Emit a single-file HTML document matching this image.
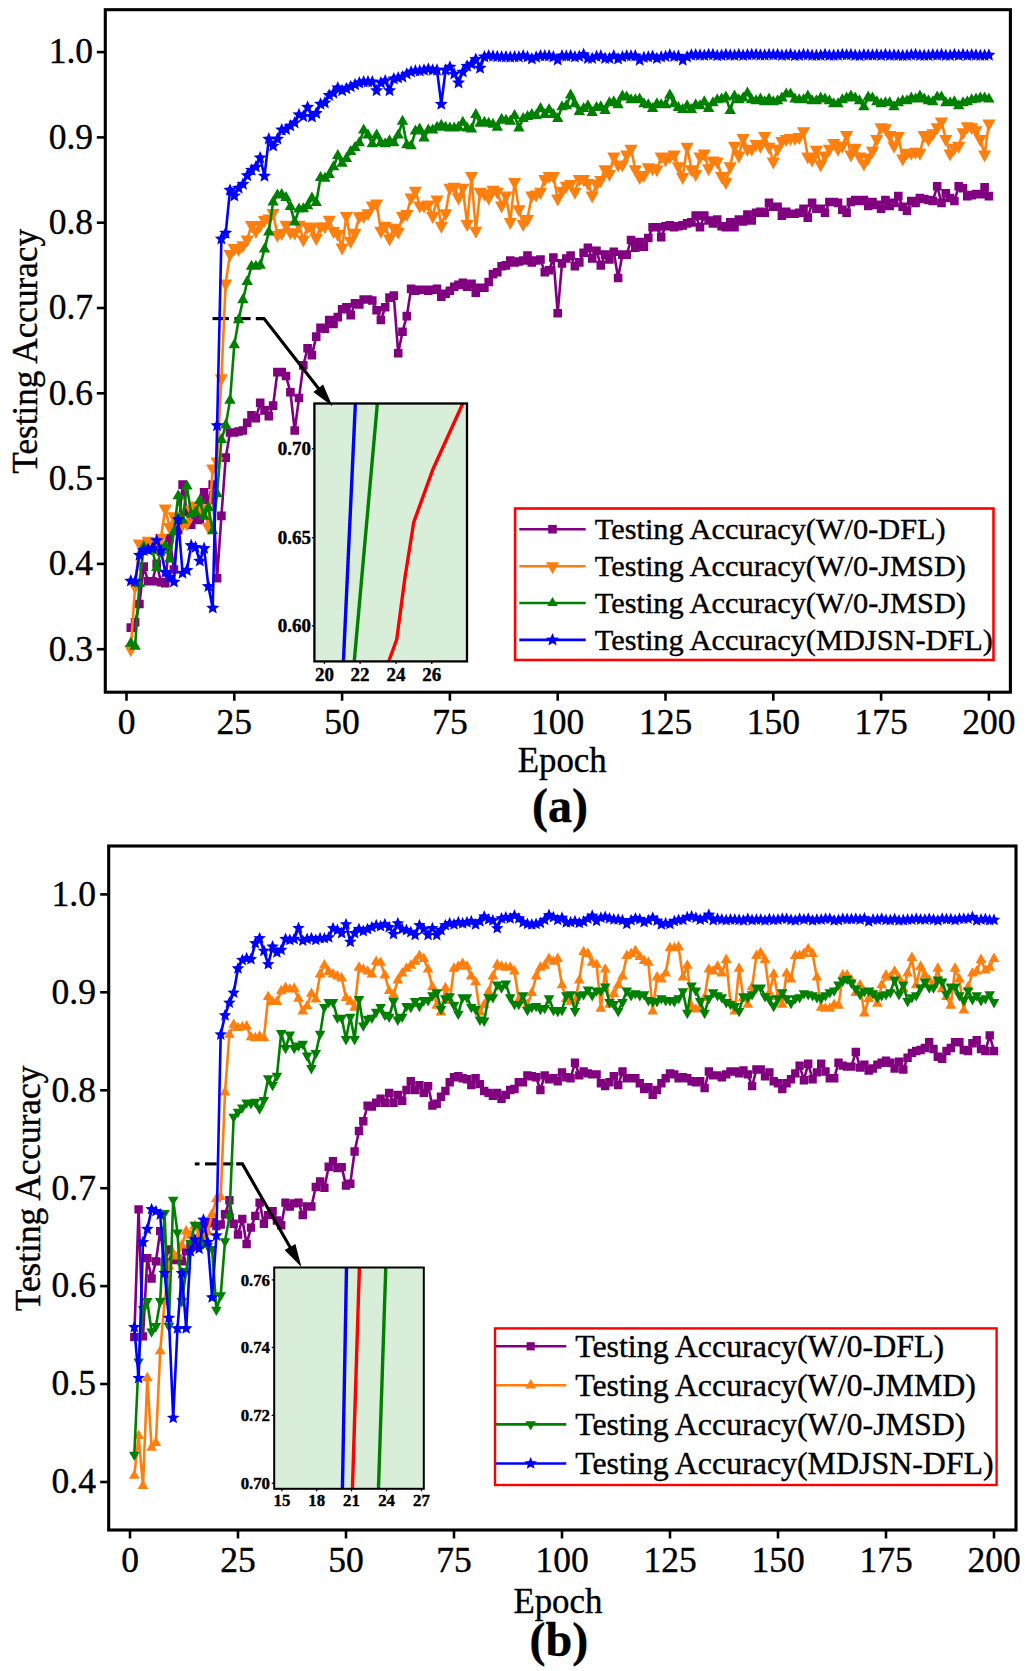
<!DOCTYPE html>
<html lang="en"><head><meta charset="utf-8"><title>Testing Accuracy vs Epoch</title>
<style>
html,body{margin:0;padding:0;background:#fff}
body{width:1025px;height:1671px;overflow:hidden}
svg{display:block}
svg text{font-family:"Liberation Serif", "Times New Roman", serif;fill:#000;stroke:#000;stroke-width:0.4px;stroke-linejoin:round}
</style></head><body>
<svg width="1025" height="1671" viewBox="0 0 1025 1671">
<rect width="1025" height="1671" fill="#fff"/>
<g id="chart-a">
<line x1="126.5" y1="692.2" x2="126.5" y2="700.7" stroke="#000" stroke-width="2.6"/>
<text x="126.5" y="733.6" font-size="35.5" text-anchor="middle" font-weight="normal">0</text>
<line x1="234.3" y1="692.2" x2="234.3" y2="700.7" stroke="#000" stroke-width="2.6"/>
<text x="234.3" y="733.6" font-size="35.5" text-anchor="middle" font-weight="normal">25</text>
<line x1="342.1" y1="692.2" x2="342.1" y2="700.7" stroke="#000" stroke-width="2.6"/>
<text x="342.1" y="733.6" font-size="35.5" text-anchor="middle" font-weight="normal">50</text>
<line x1="449.9" y1="692.2" x2="449.9" y2="700.7" stroke="#000" stroke-width="2.6"/>
<text x="449.9" y="733.6" font-size="35.5" text-anchor="middle" font-weight="normal">75</text>
<line x1="557.7" y1="692.2" x2="557.7" y2="700.7" stroke="#000" stroke-width="2.6"/>
<text x="557.7" y="733.6" font-size="35.5" text-anchor="middle" font-weight="normal">100</text>
<line x1="665.5" y1="692.2" x2="665.5" y2="700.7" stroke="#000" stroke-width="2.6"/>
<text x="665.5" y="733.6" font-size="35.5" text-anchor="middle" font-weight="normal">125</text>
<line x1="773.3" y1="692.2" x2="773.3" y2="700.7" stroke="#000" stroke-width="2.6"/>
<text x="773.3" y="733.6" font-size="35.5" text-anchor="middle" font-weight="normal">150</text>
<line x1="881.1" y1="692.2" x2="881.1" y2="700.7" stroke="#000" stroke-width="2.6"/>
<text x="881.1" y="733.6" font-size="35.5" text-anchor="middle" font-weight="normal">175</text>
<line x1="988.9" y1="692.2" x2="988.9" y2="700.7" stroke="#000" stroke-width="2.6"/>
<text x="988.9" y="733.6" font-size="35.5" text-anchor="middle" font-weight="normal">200</text>
<line x1="96.8" y1="649.2" x2="105.3" y2="649.2" stroke="#000" stroke-width="2.6"/>
<text x="93" y="660.5" font-size="35.5" text-anchor="end" font-weight="normal">0.3</text>
<line x1="96.8" y1="563.9" x2="105.3" y2="563.9" stroke="#000" stroke-width="2.6"/>
<text x="93" y="575.2" font-size="35.5" text-anchor="end" font-weight="normal">0.4</text>
<line x1="96.8" y1="478.6" x2="105.3" y2="478.6" stroke="#000" stroke-width="2.6"/>
<text x="93" y="489.9" font-size="35.5" text-anchor="end" font-weight="normal">0.5</text>
<line x1="96.8" y1="393.3" x2="105.3" y2="393.3" stroke="#000" stroke-width="2.6"/>
<text x="93" y="404.6" font-size="35.5" text-anchor="end" font-weight="normal">0.6</text>
<line x1="96.8" y1="308" x2="105.3" y2="308" stroke="#000" stroke-width="2.6"/>
<text x="93" y="319.3" font-size="35.5" text-anchor="end" font-weight="normal">0.7</text>
<line x1="96.8" y1="222.7" x2="105.3" y2="222.7" stroke="#000" stroke-width="2.6"/>
<text x="93" y="234" font-size="35.5" text-anchor="end" font-weight="normal">0.8</text>
<line x1="96.8" y1="137.4" x2="105.3" y2="137.4" stroke="#000" stroke-width="2.6"/>
<text x="93" y="148.7" font-size="35.5" text-anchor="end" font-weight="normal">0.9</text>
<line x1="96.8" y1="52.1" x2="105.3" y2="52.1" stroke="#000" stroke-width="2.6"/>
<text x="93" y="63.4" font-size="35.5" text-anchor="end" font-weight="normal">1.0</text>
<text x="562.2" y="771.8" font-size="34.8" text-anchor="middle" font-weight="normal">Epoch</text>
<text transform="translate(37.3 351.3) rotate(-90)" font-size="35.2" text-anchor="middle">Testing Accuracy</text>
<text x="560" y="821.5" font-size="48" text-anchor="middle" font-weight="bold">(a)</text>
<line x1="212.5" y1="318.6" x2="228.9" y2="318.6" stroke="#000" stroke-width="3.1"/>
<line x1="234.4" y1="318.6" x2="250.6" y2="318.6" stroke="#000" stroke-width="3.1"/>
<polyline fill="none" stroke="#800080" stroke-width="2.6" stroke-linejoin="round" points="130.8,627.6 135.1,622.2 139.4,604 143.7,566.6 148.1,581.2 152.4,581.2 156.7,563.7 161,582.2 165.3,583.2 169.6,538.3 173.9,569.5 178.2,530 182.6,484.6 186.9,512 191.2,524.6 195.5,518.8 199.8,520 204.1,492.4 208.4,500 212.7,484.6 217.1,578.3 221.4,515.9 225.7,457.6 230,432.5 234.3,432.5 238.6,431.5 242.9,430.5 247.2,422.9 251.5,415.2 255.9,418.1 260.2,402.8 264.5,410.4 268.8,416.2 273.1,405.6 277.4,372.1 281.7,372.1 286,376 290.4,392.2 294.7,430.5 299,398 303.3,365.4 307.6,348.3 311.9,355.1 316.2,336.6 320.5,327.8 324.9,328.8 329.2,320 333.5,323.9 337.8,317.1 342.1,309.3 346.4,307.3 350.7,315.1 355,303.4 359.3,304.4 363.7,299.5 368,299.5 372.3,300.5 376.6,310.2 380.9,320 385.2,307.3 389.5,297.6 393.8,295.6 398.2,353.2 402.5,331.7 406.8,316.1 411.1,288.8 415.4,290.7 419.7,289.8 424,289.8 428.3,290.7 432.7,289.8 437,288.8 441.3,296.6 445.6,293.7 449.9,290.7 454.2,286.8 458.5,284.9 462.8,282.9 467.1,286.8 471.5,283.9 475.8,292.7 480.1,287.8 484.4,287.8 488.7,282 493,274.1 497.3,272.2 501.6,266.3 506,265.4 510.3,260.5 514.6,262.4 518.9,261.5 523.2,260.5 527.5,255.6 531.8,262.4 536.1,260.5 540.5,259.5 544.8,272.2 549.1,270.2 553.4,257.6 557.7,313.2 562,263.4 566.3,258.5 570.6,255.6 574.9,266.3 579.3,262.4 583.6,252.7 587.9,247.8 592.2,258.5 596.5,250.7 600.8,265.4 605.1,254.6 609.4,259.5 613.8,251.7 618.1,278 622.4,254.6 626.7,254.6 631,240 635.3,247.8 639.6,242 643.9,246.8 648.3,238 652.6,227.3 656.9,227.3 661.2,237.1 665.5,226.3 669.8,225.4 674.1,227.3 678.4,226.3 682.7,225.4 687.1,223.4 691.4,222.4 695.7,215.6 700,227.3 704.3,215.6 708.6,220.5 712.9,223.4 717.2,219.5 721.6,226.3 725.9,227.3 730.2,222.4 734.5,227.3 738.8,219.5 743.1,221.5 747.4,214.6 751.7,220.5 756.1,212.7 760.4,211.7 764.7,212.7 769,202.9 773.3,206.8 777.6,206.8 781.9,215.6 786.2,211.7 790.5,213.7 794.9,213.7 799.2,212.7 803.5,208.8 807.8,217.6 812.1,202.9 816.4,208.8 820.7,208.8 825,212.7 829.4,202 833.7,202 838,202.9 842.3,209.8 846.6,212.7 850.9,202 855.2,200 859.5,201 863.9,200 868.2,205.9 872.5,202 876.8,204.9 881.1,208.8 885.4,200 889.7,205.9 894,202.9 898.3,196.1 902.7,206.8 907,210.7 911.3,201 915.6,202.9 919.9,198 924.2,199 928.5,200 932.8,201 937.2,186.3 941.5,202.9 945.8,193.2 950.1,198 954.4,201 958.7,186.3 963,188.3 967.3,196.1 971.7,195.1 976,194.1 980.3,194.1 984.6,187.3 988.9,196.1"/>
<path fill="#800080" d="M126.5 623.3h8.6v8.6h-8.6ZM130.8 617.9h8.6v8.6h-8.6ZM135.1 599.7h8.6v8.6h-8.6ZM139.4 562.3h8.6v8.6h-8.6ZM143.8 576.9h8.6v8.6h-8.6ZM148.1 576.9h8.6v8.6h-8.6ZM152.4 559.4h8.6v8.6h-8.6ZM156.7 577.9h8.6v8.6h-8.6ZM161 578.9h8.6v8.6h-8.6ZM165.3 534h8.6v8.6h-8.6ZM169.6 565.2h8.6v8.6h-8.6ZM173.9 525.7h8.6v8.6h-8.6ZM178.3 480.3h8.6v8.6h-8.6ZM182.6 507.7h8.6v8.6h-8.6ZM186.9 520.3h8.6v8.6h-8.6ZM191.2 514.5h8.6v8.6h-8.6ZM195.5 515.7h8.6v8.6h-8.6ZM199.8 488.1h8.6v8.6h-8.6ZM204.1 495.7h8.6v8.6h-8.6ZM208.4 480.3h8.6v8.6h-8.6ZM212.8 574h8.6v8.6h-8.6ZM217.1 511.6h8.6v8.6h-8.6ZM221.4 453.3h8.6v8.6h-8.6ZM225.7 428.2h8.6v8.6h-8.6ZM230 428.2h8.6v8.6h-8.6ZM234.3 427.2h8.6v8.6h-8.6ZM238.6 426.2h8.6v8.6h-8.6ZM242.9 418.6h8.6v8.6h-8.6ZM247.2 410.9h8.6v8.6h-8.6ZM251.6 413.8h8.6v8.6h-8.6ZM255.9 398.5h8.6v8.6h-8.6ZM260.2 406.1h8.6v8.6h-8.6ZM264.5 411.9h8.6v8.6h-8.6ZM268.8 401.3h8.6v8.6h-8.6ZM273.1 367.8h8.6v8.6h-8.6ZM277.4 367.8h8.6v8.6h-8.6ZM281.7 371.7h8.6v8.6h-8.6ZM286.1 387.9h8.6v8.6h-8.6ZM290.4 426.2h8.6v8.6h-8.6ZM294.7 393.7h8.6v8.6h-8.6ZM299 361.1h8.6v8.6h-8.6ZM303.3 344h8.6v8.6h-8.6ZM307.6 350.8h8.6v8.6h-8.6ZM311.9 332.3h8.6v8.6h-8.6ZM316.2 323.5h8.6v8.6h-8.6ZM320.6 324.5h8.6v8.6h-8.6ZM324.9 315.7h8.6v8.6h-8.6ZM329.2 319.6h8.6v8.6h-8.6ZM333.5 312.8h8.6v8.6h-8.6ZM337.8 305h8.6v8.6h-8.6ZM342.1 303h8.6v8.6h-8.6ZM346.4 310.8h8.6v8.6h-8.6ZM350.7 299.1h8.6v8.6h-8.6ZM355 300.1h8.6v8.6h-8.6ZM359.4 295.2h8.6v8.6h-8.6ZM363.7 295.2h8.6v8.6h-8.6ZM368 296.2h8.6v8.6h-8.6ZM372.3 305.9h8.6v8.6h-8.6ZM376.6 315.7h8.6v8.6h-8.6ZM380.9 303h8.6v8.6h-8.6ZM385.2 293.3h8.6v8.6h-8.6ZM389.5 291.3h8.6v8.6h-8.6ZM393.9 348.9h8.6v8.6h-8.6ZM398.2 327.4h8.6v8.6h-8.6ZM402.5 311.8h8.6v8.6h-8.6ZM406.8 284.5h8.6v8.6h-8.6ZM411.1 286.4h8.6v8.6h-8.6ZM415.4 285.5h8.6v8.6h-8.6ZM419.7 285.5h8.6v8.6h-8.6ZM424 286.4h8.6v8.6h-8.6ZM428.4 285.5h8.6v8.6h-8.6ZM432.7 284.5h8.6v8.6h-8.6ZM437 292.3h8.6v8.6h-8.6ZM441.3 289.4h8.6v8.6h-8.6ZM445.6 286.4h8.6v8.6h-8.6ZM449.9 282.5h8.6v8.6h-8.6ZM454.2 280.6h8.6v8.6h-8.6ZM458.5 278.6h8.6v8.6h-8.6ZM462.8 282.5h8.6v8.6h-8.6ZM467.2 279.6h8.6v8.6h-8.6ZM471.5 288.4h8.6v8.6h-8.6ZM475.8 283.5h8.6v8.6h-8.6ZM480.1 283.5h8.6v8.6h-8.6ZM484.4 277.7h8.6v8.6h-8.6ZM488.7 269.8h8.6v8.6h-8.6ZM493 267.9h8.6v8.6h-8.6ZM497.3 262h8.6v8.6h-8.6ZM501.7 261.1h8.6v8.6h-8.6ZM506 256.2h8.6v8.6h-8.6ZM510.3 258.1h8.6v8.6h-8.6ZM514.6 257.2h8.6v8.6h-8.6ZM518.9 256.2h8.6v8.6h-8.6ZM523.2 251.3h8.6v8.6h-8.6ZM527.5 258.1h8.6v8.6h-8.6ZM531.8 256.2h8.6v8.6h-8.6ZM536.2 255.2h8.6v8.6h-8.6ZM540.5 267.9h8.6v8.6h-8.6ZM544.8 265.9h8.6v8.6h-8.6ZM549.1 253.3h8.6v8.6h-8.6ZM553.4 308.9h8.6v8.6h-8.6ZM557.7 259.1h8.6v8.6h-8.6ZM562 254.2h8.6v8.6h-8.6ZM566.3 251.3h8.6v8.6h-8.6ZM570.6 262h8.6v8.6h-8.6ZM575 258.1h8.6v8.6h-8.6ZM579.3 248.4h8.6v8.6h-8.6ZM583.6 243.5h8.6v8.6h-8.6ZM587.9 254.2h8.6v8.6h-8.6ZM592.2 246.4h8.6v8.6h-8.6ZM596.5 261.1h8.6v8.6h-8.6ZM600.8 250.3h8.6v8.6h-8.6ZM605.1 255.2h8.6v8.6h-8.6ZM609.5 247.4h8.6v8.6h-8.6ZM613.8 273.7h8.6v8.6h-8.6ZM618.1 250.3h8.6v8.6h-8.6ZM622.4 250.3h8.6v8.6h-8.6ZM626.7 235.7h8.6v8.6h-8.6ZM631 243.5h8.6v8.6h-8.6ZM635.3 237.7h8.6v8.6h-8.6ZM639.6 242.5h8.6v8.6h-8.6ZM644 233.7h8.6v8.6h-8.6ZM648.3 223h8.6v8.6h-8.6ZM652.6 223h8.6v8.6h-8.6ZM656.9 232.8h8.6v8.6h-8.6ZM661.2 222h8.6v8.6h-8.6ZM665.5 221.1h8.6v8.6h-8.6ZM669.8 223h8.6v8.6h-8.6ZM674.1 222h8.6v8.6h-8.6ZM678.4 221.1h8.6v8.6h-8.6ZM682.8 219.1h8.6v8.6h-8.6ZM687.1 218.1h8.6v8.6h-8.6ZM691.4 211.3h8.6v8.6h-8.6ZM695.7 223h8.6v8.6h-8.6ZM700 211.3h8.6v8.6h-8.6ZM704.3 216.2h8.6v8.6h-8.6ZM708.6 219.1h8.6v8.6h-8.6ZM712.9 215.2h8.6v8.6h-8.6ZM717.3 222h8.6v8.6h-8.6ZM721.6 223h8.6v8.6h-8.6ZM725.9 218.1h8.6v8.6h-8.6ZM730.2 223h8.6v8.6h-8.6ZM734.5 215.2h8.6v8.6h-8.6ZM738.8 217.2h8.6v8.6h-8.6ZM743.1 210.3h8.6v8.6h-8.6ZM747.4 216.2h8.6v8.6h-8.6ZM751.8 208.4h8.6v8.6h-8.6ZM756.1 207.4h8.6v8.6h-8.6ZM760.4 208.4h8.6v8.6h-8.6ZM764.7 198.6h8.6v8.6h-8.6ZM769 202.5h8.6v8.6h-8.6ZM773.3 202.5h8.6v8.6h-8.6ZM777.6 211.3h8.6v8.6h-8.6ZM781.9 207.4h8.6v8.6h-8.6ZM786.2 209.4h8.6v8.6h-8.6ZM790.6 209.4h8.6v8.6h-8.6ZM794.9 208.4h8.6v8.6h-8.6ZM799.2 204.5h8.6v8.6h-8.6ZM803.5 213.3h8.6v8.6h-8.6ZM807.8 198.6h8.6v8.6h-8.6ZM812.1 204.5h8.6v8.6h-8.6ZM816.4 204.5h8.6v8.6h-8.6ZM820.7 208.4h8.6v8.6h-8.6ZM825.1 197.7h8.6v8.6h-8.6ZM829.4 197.7h8.6v8.6h-8.6ZM833.7 198.6h8.6v8.6h-8.6ZM838 205.5h8.6v8.6h-8.6ZM842.3 208.4h8.6v8.6h-8.6ZM846.6 197.7h8.6v8.6h-8.6ZM850.9 195.7h8.6v8.6h-8.6ZM855.2 196.7h8.6v8.6h-8.6ZM859.6 195.7h8.6v8.6h-8.6ZM863.9 201.6h8.6v8.6h-8.6ZM868.2 197.7h8.6v8.6h-8.6ZM872.5 200.6h8.6v8.6h-8.6ZM876.8 204.5h8.6v8.6h-8.6ZM881.1 195.7h8.6v8.6h-8.6ZM885.4 201.6h8.6v8.6h-8.6ZM889.7 198.6h8.6v8.6h-8.6ZM894 191.8h8.6v8.6h-8.6ZM898.4 202.5h8.6v8.6h-8.6ZM902.7 206.4h8.6v8.6h-8.6ZM907 196.7h8.6v8.6h-8.6ZM911.3 198.6h8.6v8.6h-8.6ZM915.6 193.7h8.6v8.6h-8.6ZM919.9 194.7h8.6v8.6h-8.6ZM924.2 195.7h8.6v8.6h-8.6ZM928.5 196.7h8.6v8.6h-8.6ZM932.9 182h8.6v8.6h-8.6ZM937.2 198.6h8.6v8.6h-8.6ZM941.5 188.9h8.6v8.6h-8.6ZM945.8 193.7h8.6v8.6h-8.6ZM950.1 196.7h8.6v8.6h-8.6ZM954.4 182h8.6v8.6h-8.6ZM958.7 184h8.6v8.6h-8.6ZM963 191.8h8.6v8.6h-8.6ZM967.4 190.8h8.6v8.6h-8.6ZM971.7 189.8h8.6v8.6h-8.6ZM976 189.8h8.6v8.6h-8.6ZM980.3 183h8.6v8.6h-8.6ZM984.6 191.8h8.6v8.6h-8.6Z"/>
<polyline fill="none" stroke="#ff7f0e" stroke-width="2.6" stroke-linejoin="round" points="130.8,649.2 135.1,586.5 139.4,543.6 143.7,544.5 148.1,540.7 152.4,542.5 156.7,547.5 161,537.8 165.3,508.5 169.6,527.1 173.9,516.3 178.2,519.5 182.6,524.1 186.9,523.2 191.2,509.5 195.5,505.6 199.8,508.5 204.1,508.5 208.4,527.1 212.7,468.5 217.1,461.5 221.4,378.3 225.7,283.5 230,253.9 234.3,248.1 238.6,249.1 242.9,245.3 247.2,239.5 251.5,225.1 255.9,230.9 260.2,225.1 264.5,220 268.8,218.5 273.1,213.1 277.4,234.8 281.7,233 286,224.7 290.4,232.2 294.7,232.7 299,224.7 303.3,239.5 307.6,226.5 311.9,227.5 316.2,238 320.5,226.5 324.9,226.3 329.2,219.7 333.5,231 337.8,234 342.1,247.5 346.4,216 350.7,241 355,232.7 359.3,216.3 363.7,216.1 368,213.2 372.3,205.4 376.6,203.4 380.9,230.7 385.2,225.8 389.5,238.5 393.8,227.8 398.2,231.7 402.5,216.1 406.8,214.1 411.1,197.5 415.4,190.7 419.7,205.4 424,205.4 428.3,204.4 432.7,216.1 437,199.5 441.3,225.8 445.6,213.2 449.9,187.8 454.2,186.8 458.5,197.5 462.8,187.8 467.1,223.9 471.5,176.1 475.8,230.7 480.1,191.7 484.4,193.6 488.7,197.5 493,189.7 497.3,191.7 501.6,205.4 506,195.6 510.3,221.9 514.6,181.9 518.9,209.3 523.2,223.9 527.5,219 531.8,195.6 536.1,194.6 540.5,191.7 544.8,179 549.1,176.1 553.4,176.1 557.7,198.5 562,190.7 566.3,185.8 570.6,183.9 574.9,191.7 579.3,179 583.6,179 587.9,182.9 592.2,195.6 596.5,183.9 600.8,180 605.1,169.3 609.4,174.1 613.8,156.6 618.1,164.4 622.4,164.4 626.7,154.6 631,148.8 635.3,169.3 639.6,177.1 643.9,175.1 648.3,167.3 652.6,168.3 656.9,169.3 661.2,156.6 665.5,159.5 669.8,156.6 674.1,154.6 678.4,166.3 682.7,177.1 687.1,146.8 691.4,169.3 695.7,174.1 700,156.6 704.3,153.6 708.6,168.3 712.9,160.5 717.2,161.5 721.6,176.1 725.9,181.9 730.2,166.3 734.5,145.8 738.8,155.6 743.1,138 747.4,148.8 751.7,148.8 756.1,143.9 760.4,145.8 764.7,136.1 769,146.8 773.3,161.5 777.6,148.8 781.9,141 786.2,139 790.5,138 794.9,138 799.2,137.1 803.5,131.2 807.8,156.6 812.1,159.5 816.4,149.7 820.7,164.4 825,155.6 829.4,148.8 833.7,142.9 838,148.8 842.3,145.8 846.6,135.1 850.9,154.6 855.2,147.8 859.5,156.6 863.9,163.4 868.2,157.5 872.5,150.7 876.8,139 881.1,127.3 885.4,128.3 889.7,135.1 894,145.8 898.3,136.1 902.7,158.5 907,152.7 911.3,152.7 915.6,151.7 919.9,152.7 924.2,135.1 928.5,139 932.8,133.2 937.2,127.3 941.5,121.5 945.8,139 950.1,153.6 954.4,147.8 958.7,145.8 963,132.2 967.3,126.3 971.7,127.3 976,130.2 980.3,139 984.6,154.6 988.9,123.4"/>
<path fill="#ff7f0e" d="M130.8 657.2L124.2 645.2L137.4 645.2ZM135.1 594.5L128.5 582.5L141.7 582.5ZM139.4 551.6L132.8 539.6L146 539.6ZM143.7 552.5L137.1 540.5L150.3 540.5ZM148.1 548.7L141.5 536.7L154.7 536.7ZM152.4 550.5L145.8 538.5L159 538.5ZM156.7 555.5L150.1 543.5L163.3 543.5ZM161 545.8L154.4 533.8L167.6 533.8ZM165.3 516.5L158.7 504.5L171.9 504.5ZM169.6 535.1L163 523.1L176.2 523.1ZM173.9 524.3L167.3 512.3L180.5 512.3ZM178.2 527.5L171.6 515.5L184.8 515.5ZM182.6 532.1L176 520.1L189.2 520.1ZM186.9 531.2L180.3 519.2L193.5 519.2ZM191.2 517.5L184.6 505.5L197.8 505.5ZM195.5 513.6L188.9 501.6L202.1 501.6ZM199.8 516.5L193.2 504.5L206.4 504.5ZM204.1 516.5L197.5 504.5L210.7 504.5ZM208.4 535.1L201.8 523.1L215 523.1ZM212.7 476.5L206.1 464.5L219.3 464.5ZM217.1 469.5L210.5 457.5L223.7 457.5ZM221.4 386.3L214.8 374.3L228 374.3ZM225.7 291.5L219.1 279.5L232.3 279.5ZM230 261.9L223.4 249.9L236.6 249.9ZM234.3 256.1L227.7 244.1L240.9 244.1ZM238.6 257.1L232 245.1L245.2 245.1ZM242.9 253.3L236.3 241.3L249.5 241.3ZM247.2 247.5L240.6 235.5L253.8 235.5ZM251.5 233.1L244.9 221.1L258.1 221.1ZM255.9 238.9L249.3 226.9L262.5 226.9ZM260.2 233.1L253.6 221.1L266.8 221.1ZM264.5 228L257.9 216L271.1 216ZM268.8 226.5L262.2 214.5L275.4 214.5ZM273.1 221.1L266.5 209.1L279.7 209.1ZM277.4 242.8L270.8 230.8L284 230.8ZM281.7 241L275.1 229L288.3 229ZM286 232.7L279.4 220.7L292.6 220.7ZM290.4 240.2L283.8 228.2L297 228.2ZM294.7 240.7L288.1 228.7L301.3 228.7ZM299 232.7L292.4 220.7L305.6 220.7ZM303.3 247.5L296.7 235.5L309.9 235.5ZM307.6 234.5L301 222.5L314.2 222.5ZM311.9 235.5L305.3 223.5L318.5 223.5ZM316.2 246L309.6 234L322.8 234ZM320.5 234.5L313.9 222.5L327.1 222.5ZM324.9 234.3L318.3 222.3L331.5 222.3ZM329.2 227.7L322.6 215.7L335.8 215.7ZM333.5 239L326.9 227L340.1 227ZM337.8 242L331.2 230L344.4 230ZM342.1 255.5L335.5 243.5L348.7 243.5ZM346.4 224L339.8 212L353 212ZM350.7 249L344.1 237L357.3 237ZM355 240.7L348.4 228.7L361.6 228.7ZM359.3 224.3L352.7 212.3L365.9 212.3ZM363.7 224.1L357.1 212.1L370.3 212.1ZM368 221.2L361.4 209.2L374.6 209.2ZM372.3 213.4L365.7 201.4L378.9 201.4ZM376.6 211.4L370 199.4L383.2 199.4ZM380.9 238.7L374.3 226.7L387.5 226.7ZM385.2 233.8L378.6 221.8L391.8 221.8ZM389.5 246.5L382.9 234.5L396.1 234.5ZM393.8 235.8L387.2 223.8L400.4 223.8ZM398.2 239.7L391.6 227.7L404.8 227.7ZM402.5 224.1L395.9 212.1L409.1 212.1ZM406.8 222.1L400.2 210.1L413.4 210.1ZM411.1 205.5L404.5 193.5L417.7 193.5ZM415.4 198.7L408.8 186.7L422 186.7ZM419.7 213.4L413.1 201.4L426.3 201.4ZM424 213.4L417.4 201.4L430.6 201.4ZM428.3 212.4L421.7 200.4L434.9 200.4ZM432.7 224.1L426.1 212.1L439.3 212.1ZM437 207.5L430.4 195.5L443.6 195.5ZM441.3 233.8L434.7 221.8L447.9 221.8ZM445.6 221.2L439 209.2L452.2 209.2ZM449.9 195.8L443.3 183.8L456.5 183.8ZM454.2 194.8L447.6 182.8L460.8 182.8ZM458.5 205.5L451.9 193.5L465.1 193.5ZM462.8 195.8L456.2 183.8L469.4 183.8ZM467.1 231.9L460.5 219.9L473.7 219.9ZM471.5 184.1L464.9 172.1L478.1 172.1ZM475.8 238.7L469.2 226.7L482.4 226.7ZM480.1 199.7L473.5 187.7L486.7 187.7ZM484.4 201.6L477.8 189.6L491 189.6ZM488.7 205.5L482.1 193.5L495.3 193.5ZM493 197.7L486.4 185.7L499.6 185.7ZM497.3 199.7L490.7 187.7L503.9 187.7ZM501.6 213.4L495 201.4L508.2 201.4ZM506 203.6L499.4 191.6L512.6 191.6ZM510.3 229.9L503.7 217.9L516.9 217.9ZM514.6 189.9L508 177.9L521.2 177.9ZM518.9 217.3L512.3 205.3L525.5 205.3ZM523.2 231.9L516.6 219.9L529.8 219.9ZM527.5 227L520.9 215L534.1 215ZM531.8 203.6L525.2 191.6L538.4 191.6ZM536.1 202.6L529.5 190.6L542.7 190.6ZM540.5 199.7L533.9 187.7L547.1 187.7ZM544.8 187L538.2 175L551.4 175ZM549.1 184.1L542.5 172.1L555.7 172.1ZM553.4 184.1L546.8 172.1L560 172.1ZM557.7 206.5L551.1 194.5L564.3 194.5ZM562 198.7L555.4 186.7L568.6 186.7ZM566.3 193.8L559.7 181.8L572.9 181.8ZM570.6 191.9L564 179.9L577.2 179.9ZM574.9 199.7L568.3 187.7L581.5 187.7ZM579.3 187L572.7 175L585.9 175ZM583.6 187L577 175L590.2 175ZM587.9 190.9L581.3 178.9L594.5 178.9ZM592.2 203.6L585.6 191.6L598.8 191.6ZM596.5 191.9L589.9 179.9L603.1 179.9ZM600.8 188L594.2 176L607.4 176ZM605.1 177.3L598.5 165.3L611.7 165.3ZM609.4 182.1L602.8 170.1L616 170.1ZM613.8 164.6L607.2 152.6L620.4 152.6ZM618.1 172.4L611.5 160.4L624.7 160.4ZM622.4 172.4L615.8 160.4L629 160.4ZM626.7 162.6L620.1 150.6L633.3 150.6ZM631 156.8L624.4 144.8L637.6 144.8ZM635.3 177.3L628.7 165.3L641.9 165.3ZM639.6 185.1L633 173.1L646.2 173.1ZM643.9 183.1L637.3 171.1L650.5 171.1ZM648.3 175.3L641.7 163.3L654.9 163.3ZM652.6 176.3L646 164.3L659.2 164.3ZM656.9 177.3L650.3 165.3L663.5 165.3ZM661.2 164.6L654.6 152.6L667.8 152.6ZM665.5 167.5L658.9 155.5L672.1 155.5ZM669.8 164.6L663.2 152.6L676.4 152.6ZM674.1 162.6L667.5 150.6L680.7 150.6ZM678.4 174.3L671.8 162.3L685 162.3ZM682.7 185.1L676.1 173.1L689.3 173.1ZM687.1 154.8L680.5 142.8L693.7 142.8ZM691.4 177.3L684.8 165.3L698 165.3ZM695.7 182.1L689.1 170.1L702.3 170.1ZM700 164.6L693.4 152.6L706.6 152.6ZM704.3 161.6L697.7 149.6L710.9 149.6ZM708.6 176.3L702 164.3L715.2 164.3ZM712.9 168.5L706.3 156.5L719.5 156.5ZM717.2 169.5L710.6 157.5L723.8 157.5ZM721.6 184.1L715 172.1L728.2 172.1ZM725.9 189.9L719.3 177.9L732.5 177.9ZM730.2 174.3L723.6 162.3L736.8 162.3ZM734.5 153.8L727.9 141.8L741.1 141.8ZM738.8 163.6L732.2 151.6L745.4 151.6ZM743.1 146L736.5 134L749.7 134ZM747.4 156.8L740.8 144.8L754 144.8ZM751.7 156.8L745.1 144.8L758.3 144.8ZM756.1 151.9L749.5 139.9L762.7 139.9ZM760.4 153.8L753.8 141.8L767 141.8ZM764.7 144.1L758.1 132.1L771.3 132.1ZM769 154.8L762.4 142.8L775.6 142.8ZM773.3 169.5L766.7 157.5L779.9 157.5ZM777.6 156.8L771 144.8L784.2 144.8ZM781.9 149L775.3 137L788.5 137ZM786.2 147L779.6 135L792.8 135ZM790.5 146L783.9 134L797.1 134ZM794.9 146L788.3 134L801.5 134ZM799.2 145.1L792.6 133.1L805.8 133.1ZM803.5 139.2L796.9 127.2L810.1 127.2ZM807.8 164.6L801.2 152.6L814.4 152.6ZM812.1 167.5L805.5 155.5L818.7 155.5ZM816.4 157.7L809.8 145.7L823 145.7ZM820.7 172.4L814.1 160.4L827.3 160.4ZM825 163.6L818.4 151.6L831.6 151.6ZM829.4 156.8L822.8 144.8L836 144.8ZM833.7 150.9L827.1 138.9L840.3 138.9ZM838 156.8L831.4 144.8L844.6 144.8ZM842.3 153.8L835.7 141.8L848.9 141.8ZM846.6 143.1L840 131.1L853.2 131.1ZM850.9 162.6L844.3 150.6L857.5 150.6ZM855.2 155.8L848.6 143.8L861.8 143.8ZM859.5 164.6L852.9 152.6L866.1 152.6ZM863.9 171.4L857.3 159.4L870.5 159.4ZM868.2 165.5L861.6 153.5L874.8 153.5ZM872.5 158.7L865.9 146.7L879.1 146.7ZM876.8 147L870.2 135L883.4 135ZM881.1 135.3L874.5 123.3L887.7 123.3ZM885.4 136.3L878.8 124.3L892 124.3ZM889.7 143.1L883.1 131.1L896.3 131.1ZM894 153.8L887.4 141.8L900.6 141.8ZM898.3 144.1L891.7 132.1L904.9 132.1ZM902.7 166.5L896.1 154.5L909.3 154.5ZM907 160.7L900.4 148.7L913.6 148.7ZM911.3 160.7L904.7 148.7L917.9 148.7ZM915.6 159.7L909 147.7L922.2 147.7ZM919.9 160.7L913.3 148.7L926.5 148.7ZM924.2 143.1L917.6 131.1L930.8 131.1ZM928.5 147L921.9 135L935.1 135ZM932.8 141.2L926.2 129.2L939.4 129.2ZM937.2 135.3L930.6 123.3L943.8 123.3ZM941.5 129.5L934.9 117.5L948.1 117.5ZM945.8 147L939.2 135L952.4 135ZM950.1 161.6L943.5 149.6L956.7 149.6ZM954.4 155.8L947.8 143.8L961 143.8ZM958.7 153.8L952.1 141.8L965.3 141.8ZM963 140.2L956.4 128.2L969.6 128.2ZM967.3 134.3L960.7 122.3L973.9 122.3ZM971.7 135.3L965.1 123.3L978.3 123.3ZM976 138.2L969.4 126.2L982.6 126.2ZM980.3 147L973.7 135L986.9 135ZM984.6 162.6L978 150.6L991.2 150.6ZM988.9 131.4L982.3 119.4L995.5 119.4Z"/>
<polyline fill="none" stroke="#008000" stroke-width="2.6" stroke-linejoin="round" points="130.8,643.4 135.1,646.4 139.4,583.7 143.7,546.6 148.1,549.5 152.4,550.5 156.7,567.6 161,550.5 165.3,545.6 169.6,559.3 173.9,532 178.2,495.9 182.6,520.3 186.9,486.1 191.2,514.5 195.5,512.5 199.8,500.8 204.1,516.4 208.4,507.6 212.7,531 217.1,493.9 221.4,439.7 225.7,425.3 230,400.4 234.3,344.9 238.6,320 242.9,299.9 247.2,281.7 251.5,266.4 255.9,266.4 260.2,265.4 264.5,249.2 268.8,232.1 273.1,202.1 277.4,195.1 281.7,194.7 286,197.7 290.4,206.7 294.7,222.3 299,209.3 303.3,209 307.6,205.9 311.9,198.2 316.2,202.8 320.5,177.8 324.9,178.5 329.2,174.7 333.5,167 337.8,155.7 342.1,163.5 346.4,158.6 350.7,151.7 355,147.8 359.3,143 363.7,130.3 368,135.2 372.3,143.9 376.6,135.2 380.9,143 385.2,143.9 389.5,141 393.8,143 398.2,135.2 402.5,121.5 406.8,144.9 411.1,145.9 415.4,131.3 419.7,129.3 424,138.1 428.3,130.3 432.7,130.3 437,127.4 441.3,125.4 445.6,127.4 449.9,128.3 454.2,128.3 458.5,127.4 462.8,122.5 467.1,128.3 471.5,129.3 475.8,114.7 480.1,123.5 484.4,122.5 488.7,123.5 493,124.4 497.3,127.4 501.6,119.5 506,120.5 510.3,121.5 514.6,115.6 518.9,128.3 523.2,118.6 527.5,116.6 531.8,114.7 536.1,115.6 540.5,108.8 544.8,114.7 549.1,109.8 553.4,114.7 557.7,118.6 562,106.9 566.3,105.9 570.6,95.2 574.9,103.9 579.3,111.7 583.6,108.8 587.9,105.9 592.2,112.7 596.5,107.8 600.8,106.9 605.1,110.8 609.4,103 613.8,102 618.1,104.9 622.4,96.1 626.7,97.1 631,100 635.3,100 639.6,99.1 643.9,103.9 648.3,104.9 652.6,108.8 656.9,103.9 661.2,104.9 665.5,104.9 669.8,95.2 674.1,103.9 678.4,107.8 682.7,109.8 687.1,105.9 691.4,109.8 695.7,104.9 700,105.9 704.3,102 708.6,108.8 712.9,103 717.2,100 721.6,99.1 725.9,97.1 730.2,110.8 734.5,96.1 738.8,100 743.1,98.1 747.4,93.2 751.7,100 756.1,101 760.4,99.1 764.7,102 769,99.1 773.3,102 777.6,101 781.9,98.1 786.2,94.2 790.5,94.2 794.9,99.1 799.2,100 803.5,100 807.8,96.1 812.1,101 816.4,101 820.7,98.1 825,99.1 829.4,101 833.7,103.9 838,103.9 842.3,100 846.6,98.1 850.9,96.1 855.2,98.1 859.5,101 863.9,106.9 868.2,97.1 872.5,98.1 876.8,102 881.1,103.9 885.4,103 889.7,103 894,106.9 898.3,103 902.7,101 907,101 911.3,98.1 915.6,99.1 919.9,96.1 924.2,99.1 928.5,101 932.8,102 937.2,97.1 941.5,97.1 945.8,103 950.1,103 954.4,102 958.7,105.9 963,103 967.3,102 971.7,100 976,99.1 980.3,98.1 984.6,98.1 988.9,99.1"/>
<path fill="#008000" d="M130.8 636.7L125.1 646.7L136.5 646.7ZM135.1 639.7L129.4 649.7L140.8 649.7ZM139.4 577L133.7 587L145.1 587ZM143.7 539.9L138 549.9L149.4 549.9ZM148.1 542.8L142.4 552.8L153.8 552.8ZM152.4 543.8L146.7 553.8L158.1 553.8ZM156.7 560.9L151 570.9L162.4 570.9ZM161 543.8L155.3 553.8L166.7 553.8ZM165.3 538.9L159.6 548.9L171 548.9ZM169.6 552.6L163.9 562.6L175.3 562.6ZM173.9 525.3L168.2 535.3L179.6 535.3ZM178.2 489.2L172.5 499.2L183.9 499.2ZM182.6 513.6L176.9 523.6L188.3 523.6ZM186.9 479.4L181.2 489.4L192.6 489.4ZM191.2 507.8L185.5 517.8L196.9 517.8ZM195.5 505.8L189.8 515.8L201.2 515.8ZM199.8 494.1L194.1 504.1L205.5 504.1ZM204.1 509.7L198.4 519.7L209.8 519.7ZM208.4 500.9L202.7 510.9L214.1 510.9ZM212.7 524.3L207 534.3L218.4 534.3ZM217.1 487.2L211.4 497.2L222.8 497.2ZM221.4 433L215.7 443L227.1 443ZM225.7 418.6L220 428.6L231.4 428.6ZM230 393.7L224.3 403.7L235.7 403.7ZM234.3 338.2L228.6 348.2L240 348.2ZM238.6 313.3L232.9 323.3L244.3 323.3ZM242.9 293.2L237.2 303.2L248.6 303.2ZM247.2 275L241.5 285L252.9 285ZM251.5 259.7L245.8 269.7L257.2 269.7ZM255.9 259.7L250.2 269.7L261.6 269.7ZM260.2 258.7L254.5 268.7L265.9 268.7ZM264.5 242.5L258.8 252.5L270.2 252.5ZM268.8 225.4L263.1 235.4L274.5 235.4ZM273.1 195.4L267.4 205.4L278.8 205.4ZM277.4 188.4L271.7 198.4L283.1 198.4ZM281.7 188L276 198L287.4 198ZM286 191L280.3 201L291.7 201ZM290.4 200L284.7 210L296.1 210ZM294.7 215.6L289 225.6L300.4 225.6ZM299 202.6L293.3 212.6L304.7 212.6ZM303.3 202.3L297.6 212.3L309 212.3ZM307.6 199.2L301.9 209.2L313.3 209.2ZM311.9 191.5L306.2 201.5L317.6 201.5ZM316.2 196.1L310.5 206.1L321.9 206.1ZM320.5 171.1L314.8 181.1L326.2 181.1ZM324.9 171.8L319.2 181.8L330.6 181.8ZM329.2 168L323.5 178L334.9 178ZM333.5 160.3L327.8 170.3L339.2 170.3ZM337.8 149L332.1 159L343.5 159ZM342.1 156.8L336.4 166.8L347.8 166.8ZM346.4 151.9L340.7 161.9L352.1 161.9ZM350.7 145L345 155L356.4 155ZM355 141.1L349.3 151.1L360.7 151.1ZM359.3 136.3L353.6 146.3L365 146.3ZM363.7 123.6L358 133.6L369.4 133.6ZM368 128.5L362.3 138.5L373.7 138.5ZM372.3 137.2L366.6 147.2L378 147.2ZM376.6 128.5L370.9 138.5L382.3 138.5ZM380.9 136.3L375.2 146.3L386.6 146.3ZM385.2 137.2L379.5 147.2L390.9 147.2ZM389.5 134.3L383.8 144.3L395.2 144.3ZM393.8 136.3L388.1 146.3L399.5 146.3ZM398.2 128.5L392.5 138.5L403.9 138.5ZM402.5 114.8L396.8 124.8L408.2 124.8ZM406.8 138.2L401.1 148.2L412.5 148.2ZM411.1 139.2L405.4 149.2L416.8 149.2ZM415.4 124.6L409.7 134.6L421.1 134.6ZM419.7 122.6L414 132.6L425.4 132.6ZM424 131.4L418.3 141.4L429.7 141.4ZM428.3 123.6L422.6 133.6L434 133.6ZM432.7 123.6L427 133.6L438.4 133.6ZM437 120.7L431.3 130.7L442.7 130.7ZM441.3 118.7L435.6 128.7L447 128.7ZM445.6 120.7L439.9 130.7L451.3 130.7ZM449.9 121.6L444.2 131.6L455.6 131.6ZM454.2 121.6L448.5 131.6L459.9 131.6ZM458.5 120.7L452.8 130.7L464.2 130.7ZM462.8 115.8L457.1 125.8L468.5 125.8ZM467.1 121.6L461.4 131.6L472.8 131.6ZM471.5 122.6L465.8 132.6L477.2 132.6ZM475.8 108L470.1 118L481.5 118ZM480.1 116.8L474.4 126.8L485.8 126.8ZM484.4 115.8L478.7 125.8L490.1 125.8ZM488.7 116.8L483 126.8L494.4 126.8ZM493 117.7L487.3 127.7L498.7 127.7ZM497.3 120.7L491.6 130.7L503 130.7ZM501.6 112.8L495.9 122.8L507.3 122.8ZM506 113.8L500.3 123.8L511.7 123.8ZM510.3 114.8L504.6 124.8L516 124.8ZM514.6 108.9L508.9 118.9L520.3 118.9ZM518.9 121.6L513.2 131.6L524.6 131.6ZM523.2 111.9L517.5 121.9L528.9 121.9ZM527.5 109.9L521.8 119.9L533.2 119.9ZM531.8 108L526.1 118L537.5 118ZM536.1 108.9L530.4 118.9L541.8 118.9ZM540.5 102.1L534.8 112.1L546.2 112.1ZM544.8 108L539.1 118L550.5 118ZM549.1 103.1L543.4 113.1L554.8 113.1ZM553.4 108L547.7 118L559.1 118ZM557.7 111.9L552 121.9L563.4 121.9ZM562 100.2L556.3 110.2L567.7 110.2ZM566.3 99.2L560.6 109.2L572 109.2ZM570.6 88.5L564.9 98.5L576.3 98.5ZM574.9 97.2L569.2 107.2L580.6 107.2ZM579.3 105L573.6 115L585 115ZM583.6 102.1L577.9 112.1L589.3 112.1ZM587.9 99.2L582.2 109.2L593.6 109.2ZM592.2 106L586.5 116L597.9 116ZM596.5 101.1L590.8 111.1L602.2 111.1ZM600.8 100.2L595.1 110.2L606.5 110.2ZM605.1 104.1L599.4 114.1L610.8 114.1ZM609.4 96.3L603.7 106.3L615.1 106.3ZM613.8 95.3L608.1 105.3L619.5 105.3ZM618.1 98.2L612.4 108.2L623.8 108.2ZM622.4 89.4L616.7 99.4L628.1 99.4ZM626.7 90.4L621 100.4L632.4 100.4ZM631 93.3L625.3 103.3L636.7 103.3ZM635.3 93.3L629.6 103.3L641 103.3ZM639.6 92.4L633.9 102.4L645.3 102.4ZM643.9 97.2L638.2 107.2L649.6 107.2ZM648.3 98.2L642.6 108.2L654 108.2ZM652.6 102.1L646.9 112.1L658.3 112.1ZM656.9 97.2L651.2 107.2L662.6 107.2ZM661.2 98.2L655.5 108.2L666.9 108.2ZM665.5 98.2L659.8 108.2L671.2 108.2ZM669.8 88.5L664.1 98.5L675.5 98.5ZM674.1 97.2L668.4 107.2L679.8 107.2ZM678.4 101.1L672.7 111.1L684.1 111.1ZM682.7 103.1L677 113.1L688.4 113.1ZM687.1 99.2L681.4 109.2L692.8 109.2ZM691.4 103.1L685.7 113.1L697.1 113.1ZM695.7 98.2L690 108.2L701.4 108.2ZM700 99.2L694.3 109.2L705.7 109.2ZM704.3 95.3L698.6 105.3L710 105.3ZM708.6 102.1L702.9 112.1L714.3 112.1ZM712.9 96.3L707.2 106.3L718.6 106.3ZM717.2 93.3L711.5 103.3L722.9 103.3ZM721.6 92.4L715.9 102.4L727.3 102.4ZM725.9 90.4L720.2 100.4L731.6 100.4ZM730.2 104.1L724.5 114.1L735.9 114.1ZM734.5 89.4L728.8 99.4L740.2 99.4ZM738.8 93.3L733.1 103.3L744.5 103.3ZM743.1 91.4L737.4 101.4L748.8 101.4ZM747.4 86.5L741.7 96.5L753.1 96.5ZM751.7 93.3L746 103.3L757.4 103.3ZM756.1 94.3L750.4 104.3L761.8 104.3ZM760.4 92.4L754.7 102.4L766.1 102.4ZM764.7 95.3L759 105.3L770.4 105.3ZM769 92.4L763.3 102.4L774.7 102.4ZM773.3 95.3L767.6 105.3L779 105.3ZM777.6 94.3L771.9 104.3L783.3 104.3ZM781.9 91.4L776.2 101.4L787.6 101.4ZM786.2 87.5L780.5 97.5L791.9 97.5ZM790.5 87.5L784.8 97.5L796.2 97.5ZM794.9 92.4L789.2 102.4L800.6 102.4ZM799.2 93.3L793.5 103.3L804.9 103.3ZM803.5 93.3L797.8 103.3L809.2 103.3ZM807.8 89.4L802.1 99.4L813.5 99.4ZM812.1 94.3L806.4 104.3L817.8 104.3ZM816.4 94.3L810.7 104.3L822.1 104.3ZM820.7 91.4L815 101.4L826.4 101.4ZM825 92.4L819.3 102.4L830.7 102.4ZM829.4 94.3L823.7 104.3L835.1 104.3ZM833.7 97.2L828 107.2L839.4 107.2ZM838 97.2L832.3 107.2L843.7 107.2ZM842.3 93.3L836.6 103.3L848 103.3ZM846.6 91.4L840.9 101.4L852.3 101.4ZM850.9 89.4L845.2 99.4L856.6 99.4ZM855.2 91.4L849.5 101.4L860.9 101.4ZM859.5 94.3L853.8 104.3L865.2 104.3ZM863.9 100.2L858.2 110.2L869.6 110.2ZM868.2 90.4L862.5 100.4L873.9 100.4ZM872.5 91.4L866.8 101.4L878.2 101.4ZM876.8 95.3L871.1 105.3L882.5 105.3ZM881.1 97.2L875.4 107.2L886.8 107.2ZM885.4 96.3L879.7 106.3L891.1 106.3ZM889.7 96.3L884 106.3L895.4 106.3ZM894 100.2L888.3 110.2L899.7 110.2ZM898.3 96.3L892.6 106.3L904 106.3ZM902.7 94.3L897 104.3L908.4 104.3ZM907 94.3L901.3 104.3L912.7 104.3ZM911.3 91.4L905.6 101.4L917 101.4ZM915.6 92.4L909.9 102.4L921.3 102.4ZM919.9 89.4L914.2 99.4L925.6 99.4ZM924.2 92.4L918.5 102.4L929.9 102.4ZM928.5 94.3L922.8 104.3L934.2 104.3ZM932.8 95.3L927.1 105.3L938.5 105.3ZM937.2 90.4L931.5 100.4L942.9 100.4ZM941.5 90.4L935.8 100.4L947.2 100.4ZM945.8 96.3L940.1 106.3L951.5 106.3ZM950.1 96.3L944.4 106.3L955.8 106.3ZM954.4 95.3L948.7 105.3L960.1 105.3ZM958.7 99.2L953 109.2L964.4 109.2ZM963 96.3L957.3 106.3L968.7 106.3ZM967.3 95.3L961.6 105.3L973 105.3ZM971.7 93.3L966 103.3L977.4 103.3ZM976 92.4L970.3 102.4L981.7 102.4ZM980.3 91.4L974.6 101.4L986 101.4ZM984.6 91.4L978.9 101.4L990.3 101.4ZM988.9 92.4L983.2 102.4L994.6 102.4Z"/>
<polyline fill="none" stroke="#0000ff" stroke-width="2.6" stroke-linejoin="round" points="130.8,581 135.1,581.5 139.4,555.2 143.7,550.3 148.1,549.8 152.4,548.4 156.7,540.6 161,550.8 165.3,572.3 169.6,577.1 173.9,582 178.2,519.6 182.6,573.2 186.9,570.3 191.2,545.4 195.5,547.4 199.8,561 204.1,548.4 208.4,586.4 212.7,608 217.1,425.6 221.4,238.9 225.7,233.1 230,190.1 234.3,195.8 238.6,188.1 242.9,184.2 247.2,175.6 251.5,170.2 255.9,167 260.2,157.8 264.5,176.1 268.8,139 273.1,146 277.4,139 281.7,129.8 286,129.3 290.4,126 294.7,122.8 299,114.7 303.3,116.3 307.6,107.2 311.9,116.8 316.2,113.3 320.5,104.1 324.9,102.8 329.2,95.3 333.5,93.1 337.8,87.8 342.1,90.6 346.4,88.6 350.7,86.7 355,84.7 359.3,82.8 363.7,81.8 368,81.8 372.3,81.8 376.6,90.6 380.9,82.8 385.2,80.8 389.5,90.6 393.8,78.8 398.2,77.9 402.5,76.9 406.8,74 411.1,72 415.4,71 419.7,71 424,70.1 428.3,69.1 432.7,70.1 437,70.1 441.3,104.2 445.6,70.1 449.9,67.1 454.2,74 458.5,82.8 462.8,72 467.1,66.2 471.5,64.2 475.8,59.3 480.1,68.1 484.4,56.8 488.7,55.8 493,56.2 497.3,56.6 501.6,57 506,56.8 510.3,57.2 514.6,56.8 518.9,57 523.2,55.8 527.5,57 531.8,58.8 536.1,57.2 540.5,55.8 544.8,56 549.1,55.8 553.4,57 557.7,59.8 562,55.8 566.3,56.2 570.6,55.8 574.9,57 579.3,56.5 583.6,54.5 587.9,58.5 592.2,58.5 596.5,56.5 600.8,56 605.1,58.5 609.4,58.5 613.8,56 618.1,58.8 622.4,57 626.7,55.8 631,56 635.3,55.8 639.6,60.2 643.9,57.5 648.3,57 652.6,56.3 656.9,58.5 661.2,57 665.5,56.5 669.8,55 674.1,56.5 678.4,56.2 682.7,60.2 687.1,57 691.4,55.1 695.7,54.8 700,55.1 704.3,55.5 708.6,54.6 712.9,54.6 717.2,55.7 721.6,55.3 725.9,54.6 730.2,55.1 734.5,55.3 738.8,54.6 743.1,55.3 747.4,54.8 751.7,54.6 756.1,54.6 760.4,55.1 764.7,55.1 769,54.6 773.3,54.8 777.6,54.6 781.9,55.3 786.2,55.1 790.5,54.6 794.9,55.7 799.2,55.3 803.5,54.6 807.8,54.8 812.1,55.5 816.4,55.5 820.7,55.3 825,54.6 829.4,55.3 833.7,55.3 838,55.1 842.3,54.6 846.6,54.8 850.9,54.6 855.2,55.3 859.5,55.7 863.9,54.8 868.2,55.1 872.5,55.1 876.8,54.8 881.1,55.3 885.4,54.6 889.7,55.3 894,55.1 898.3,55.3 902.7,55.7 907,55.5 911.3,54.8 915.6,54.6 919.9,55.3 924.2,55.3 928.5,55.5 932.8,54.8 937.2,55.1 941.5,54.6 945.8,55.3 950.1,55.5 954.4,54.6 958.7,55.3 963,54.6 967.3,55.3 971.7,54.8 976,55.1 980.3,55.5 984.6,55.3 988.9,55.1"/>
<path fill="#0000ff" d="M130.8 574.1L132.6 578.5L137.4 578.9L133.8 582L134.9 586.6L130.8 584.1L126.8 586.6L127.9 582L124.2 578.9L129 578.5ZM135.1 574.6L136.9 579L141.7 579.4L138.1 582.5L139.2 587.1L135.1 584.6L131.1 587.1L132.2 582.5L128.6 579.4L133.3 579ZM139.4 548.3L141.3 552.7L146 553.1L142.4 556.2L143.5 560.8L139.4 558.3L135.4 560.8L136.5 556.2L132.9 553.1L137.6 552.7ZM143.7 543.4L145.6 547.8L150.3 548.2L146.7 551.3L147.8 555.9L143.7 553.4L139.7 555.9L140.8 551.3L137.2 548.2L141.9 547.8ZM148.1 542.9L149.9 547.3L154.6 547.7L151 550.8L152.1 555.4L148.1 552.9L144 555.4L145.1 550.8L141.5 547.7L146.2 547.3ZM152.4 541.5L154.2 545.9L158.9 546.3L155.3 549.4L156.4 554L152.4 551.5L148.3 554L149.4 549.4L145.8 546.3L150.5 545.9ZM156.7 533.7L158.5 538.1L163.2 538.5L159.6 541.6L160.7 546.2L156.7 543.7L152.6 546.2L153.7 541.6L150.1 538.5L154.9 538.1ZM161 543.9L162.8 548.3L167.6 548.7L163.9 551.8L165.1 556.4L161 553.9L156.9 556.4L158 551.8L154.4 548.7L159.2 548.3ZM165.3 565.4L167.1 569.8L171.9 570.2L168.3 573.3L169.4 577.9L165.3 575.4L161.3 577.9L162.4 573.3L158.7 570.2L163.5 569.8ZM169.6 570.2L171.4 574.6L176.2 575L172.6 578.1L173.7 582.7L169.6 580.2L165.6 582.7L166.7 578.1L163.1 575L167.8 574.6ZM173.9 575.1L175.8 579.5L180.5 579.9L176.9 583L178 587.6L173.9 585.1L169.9 587.6L171 583L167.4 579.9L172.1 579.5ZM178.2 512.7L180.1 517.1L184.8 517.5L181.2 520.6L182.3 525.2L178.2 522.7L174.2 525.2L175.3 520.6L171.7 517.5L176.4 517.1ZM182.6 566.3L184.4 570.7L189.1 571.1L185.5 574.2L186.6 578.8L182.6 576.3L178.5 578.8L179.6 574.2L176 571.1L180.7 570.7ZM186.9 563.4L188.7 567.8L193.4 568.2L189.8 571.3L190.9 575.9L186.9 573.4L182.8 575.9L183.9 571.3L180.3 568.2L185 567.8ZM191.2 538.5L193 542.9L197.7 543.3L194.1 546.4L195.2 551L191.2 548.5L187.1 551L188.2 546.4L184.6 543.3L189.4 542.9ZM195.5 540.5L197.3 544.9L202.1 545.3L198.4 548.4L199.5 553L195.5 550.5L191.4 553L192.5 548.4L188.9 545.3L193.7 544.9ZM199.8 554.1L201.6 558.5L206.4 558.9L202.8 562L203.9 566.6L199.8 564.1L195.7 566.6L196.9 562L193.2 558.9L198 558.5ZM204.1 541.5L205.9 545.9L210.7 546.3L207.1 549.4L208.2 554L204.1 551.5L200.1 554L201.2 549.4L197.6 546.3L202.3 545.9ZM208.4 579.5L210.3 583.9L215 584.3L211.4 587.4L212.5 592L208.4 589.5L204.4 592L205.5 587.4L201.9 584.3L206.6 583.9ZM212.7 601.1L214.6 605.5L219.3 605.9L215.7 609L216.8 613.6L212.7 611.1L208.7 613.6L209.8 609L206.2 605.9L210.9 605.5ZM217.1 418.7L218.9 423.1L223.6 423.5L220 426.6L221.1 431.2L217.1 428.7L213 431.2L214.1 426.6L210.5 423.5L215.2 423.1ZM221.4 232L223.2 236.4L227.9 236.8L224.3 239.9L225.4 244.5L221.4 242L217.3 244.5L218.4 239.9L214.8 236.8L219.5 236.4ZM225.7 226.2L227.5 230.6L232.2 231L228.6 234.1L229.7 238.7L225.7 236.2L221.6 238.7L222.7 234.1L219.1 231L223.9 230.6ZM230 183.2L231.8 187.6L236.6 188L232.9 191.1L234 195.7L230 193.2L225.9 195.7L227 191.1L223.4 188L228.2 187.6ZM234.3 188.9L236.1 193.3L240.9 193.7L237.3 196.8L238.4 201.4L234.3 198.9L230.2 201.4L231.3 196.8L227.7 193.7L232.5 193.3ZM238.6 181.2L240.4 185.6L245.2 186L241.6 189.1L242.7 193.7L238.6 191.2L234.6 193.7L235.7 189.1L232 186L236.8 185.6ZM242.9 177.3L244.7 181.7L249.5 182.1L245.9 185.2L247 189.8L242.9 187.3L238.9 189.8L240 185.2L236.4 182.1L241.1 181.7ZM247.2 168.7L249.1 173.1L253.8 173.5L250.2 176.6L251.3 181.2L247.2 178.7L243.2 181.2L244.3 176.6L240.7 173.5L245.4 173.1ZM251.5 163.3L253.4 167.7L258.1 168.1L254.5 171.2L255.6 175.8L251.5 173.3L247.5 175.8L248.6 171.2L245 168.1L249.7 167.7ZM255.9 160.1L257.7 164.5L262.4 164.9L258.8 168L259.9 172.6L255.9 170.1L251.8 172.6L252.9 168L249.3 164.9L254 164.5ZM260.2 150.9L262 155.3L266.7 155.7L263.1 158.8L264.2 163.4L260.2 160.9L256.1 163.4L257.2 158.8L253.6 155.7L258.3 155.3ZM264.5 169.2L266.3 173.6L271 174L267.4 177.1L268.5 181.7L264.5 179.2L260.4 181.7L261.5 177.1L257.9 174L262.7 173.6ZM268.8 132.1L270.6 136.5L275.4 136.9L271.7 140L272.9 144.6L268.8 142.1L264.7 144.6L265.8 140L262.2 136.9L267 136.5ZM273.1 139.1L274.9 143.5L279.7 143.9L276.1 147L277.2 151.6L273.1 149.1L269.1 151.6L270.2 147L266.5 143.9L271.3 143.5ZM277.4 132.1L279.2 136.5L284 136.9L280.4 140L281.5 144.6L277.4 142.1L273.4 144.6L274.5 140L270.9 136.9L275.6 136.5ZM281.7 122.9L283.6 127.3L288.3 127.7L284.7 130.8L285.8 135.4L281.7 132.9L277.7 135.4L278.8 130.8L275.2 127.7L279.9 127.3ZM286 122.4L287.9 126.8L292.6 127.2L289 130.3L290.1 134.9L286 132.4L282 134.9L283.1 130.3L279.5 127.2L284.2 126.8ZM290.4 119.1L292.2 123.5L296.9 123.9L293.3 127L294.4 131.6L290.4 129.1L286.3 131.6L287.4 127L283.8 123.9L288.5 123.5ZM294.7 115.9L296.5 120.3L301.2 120.7L297.6 123.8L298.7 128.4L294.7 125.9L290.6 128.4L291.7 123.8L288.1 120.7L292.8 120.3ZM299 107.8L300.8 112.2L305.5 112.6L301.9 115.7L303 120.3L299 117.8L294.9 120.3L296 115.7L292.4 112.6L297.2 112.2ZM303.3 109.4L305.1 113.8L309.9 114.2L306.2 117.3L307.3 121.9L303.3 119.4L299.2 121.9L300.3 117.3L296.7 114.2L301.5 113.8ZM307.6 100.3L309.4 104.7L314.2 105.1L310.6 108.2L311.7 112.8L307.6 110.3L303.5 112.8L304.7 108.2L301 105.1L305.8 104.7ZM311.9 109.9L313.7 114.3L318.5 114.7L314.9 117.8L316 122.4L311.9 119.9L307.9 122.4L309 117.8L305.4 114.7L310.1 114.3ZM316.2 106.4L318.1 110.8L322.8 111.2L319.2 114.3L320.3 118.9L316.2 116.4L312.2 118.9L313.3 114.3L309.7 111.2L314.4 110.8ZM320.5 97.2L322.4 101.6L327.1 102L323.5 105.1L324.6 109.7L320.5 107.2L316.5 109.7L317.6 105.1L314 102L318.7 101.6ZM324.9 95.9L326.7 100.3L331.4 100.7L327.8 103.8L328.9 108.4L324.9 105.9L320.8 108.4L321.9 103.8L318.3 100.7L323 100.3ZM329.2 88.4L331 92.8L335.7 93.2L332.1 96.3L333.2 100.9L329.2 98.4L325.1 100.9L326.2 96.3L322.6 93.2L327.3 92.8ZM333.5 86.2L335.3 90.6L340 91L336.4 94.1L337.5 98.7L333.5 96.2L329.4 98.7L330.5 94.1L326.9 91L331.7 90.6ZM337.8 80.9L339.6 85.3L344.4 85.7L340.7 88.8L341.8 93.4L337.8 90.9L333.7 93.4L334.8 88.8L331.2 85.7L336 85.3ZM342.1 83.7L343.9 88.1L348.7 88.5L345.1 91.6L346.2 96.2L342.1 93.7L338 96.2L339.1 91.6L335.5 88.5L340.3 88.1ZM346.4 81.7L348.2 86.1L353 86.5L349.4 89.6L350.5 94.2L346.4 91.7L342.4 94.2L343.5 89.6L339.8 86.5L344.6 86.1ZM350.7 79.8L352.5 84.2L357.3 84.6L353.7 87.7L354.8 92.3L350.7 89.8L346.7 92.3L347.8 87.7L344.2 84.6L348.9 84.2ZM355 77.8L356.9 82.2L361.6 82.6L358 85.7L359.1 90.3L355 87.8L351 90.3L352.1 85.7L348.5 82.6L353.2 82.2ZM359.3 75.9L361.2 80.3L365.9 80.7L362.3 83.8L363.4 88.4L359.3 85.9L355.3 88.4L356.4 83.8L352.8 80.7L357.5 80.3ZM363.7 74.9L365.5 79.3L370.2 79.7L366.6 82.8L367.7 87.4L363.7 84.9L359.6 87.4L360.7 82.8L357.1 79.7L361.8 79.3ZM368 74.9L369.8 79.3L374.5 79.7L370.9 82.8L372 87.4L368 84.9L363.9 87.4L365 82.8L361.4 79.7L366.1 79.3ZM372.3 74.9L374.1 79.3L378.8 79.7L375.2 82.8L376.3 87.4L372.3 84.9L368.2 87.4L369.3 82.8L365.7 79.7L370.5 79.3ZM376.6 83.7L378.4 88.1L383.2 88.5L379.5 91.6L380.7 96.2L376.6 93.7L372.5 96.2L373.6 91.6L370 88.5L374.8 88.1ZM380.9 75.9L382.7 80.3L387.5 80.7L383.9 83.8L385 88.4L380.9 85.9L376.9 88.4L378 83.8L374.3 80.7L379.1 80.3ZM385.2 73.9L387 78.3L391.8 78.7L388.2 81.8L389.3 86.4L385.2 83.9L381.2 86.4L382.3 81.8L378.7 78.7L383.4 78.3ZM389.5 83.7L391.4 88.1L396.1 88.5L392.5 91.6L393.6 96.2L389.5 93.7L385.5 96.2L386.6 91.6L383 88.5L387.7 88.1ZM393.8 71.9L395.7 76.3L400.4 76.7L396.8 79.8L397.9 84.4L393.8 81.9L389.8 84.4L390.9 79.8L387.3 76.7L392 76.3ZM398.2 71L400 75.4L404.7 75.8L401.1 78.9L402.2 83.5L398.2 81L394.1 83.5L395.2 78.9L391.6 75.8L396.3 75.4ZM402.5 70L404.3 74.4L409 74.8L405.4 77.9L406.5 82.5L402.5 80L398.4 82.5L399.5 77.9L395.9 74.8L400.6 74.4ZM406.8 67.1L408.6 71.5L413.3 71.9L409.7 75L410.8 79.6L406.8 77.1L402.7 79.6L403.8 75L400.2 71.9L405 71.5ZM411.1 65.1L412.9 69.5L417.7 69.9L414 73L415.1 77.6L411.1 75.1L407 77.6L408.1 73L404.5 69.9L409.3 69.5ZM415.4 64.1L417.2 68.5L422 68.9L418.4 72L419.5 76.6L415.4 74.1L411.3 76.6L412.5 72L408.8 68.9L413.6 68.5ZM419.7 64.1L421.5 68.5L426.3 68.9L422.7 72L423.8 76.6L419.7 74.1L415.7 76.6L416.8 72L413.2 68.9L417.9 68.5ZM424 63.2L425.9 67.6L430.6 68L427 71.1L428.1 75.7L424 73.2L420 75.7L421.1 71.1L417.5 68L422.2 67.6ZM428.3 62.2L430.2 66.6L434.9 67L431.3 70.1L432.4 74.7L428.3 72.2L424.3 74.7L425.4 70.1L421.8 67L426.5 66.6ZM432.7 63.2L434.5 67.6L439.2 68L435.6 71.1L436.7 75.7L432.7 73.2L428.6 75.7L429.7 71.1L426.1 68L430.8 67.6ZM437 63.2L438.8 67.6L443.5 68L439.9 71.1L441 75.7L437 73.2L432.9 75.7L434 71.1L430.4 68L435.1 67.6ZM441.3 97.3L443.1 101.7L447.8 102.1L444.2 105.2L445.3 109.8L441.3 107.3L437.2 109.8L438.3 105.2L434.7 102.1L439.5 101.7ZM445.6 63.2L447.4 67.6L452.2 68L448.5 71.1L449.6 75.7L445.6 73.2L441.5 75.7L442.6 71.1L439 68L443.8 67.6ZM449.9 60.2L451.7 64.6L456.5 65L452.9 68.1L454 72.7L449.9 70.2L445.8 72.7L446.9 68.1L443.3 65L448.1 64.6ZM454.2 67.1L456 71.5L460.8 71.9L457.2 75L458.3 79.6L454.2 77.1L450.2 79.6L451.3 75L447.6 71.9L452.4 71.5ZM458.5 75.9L460.3 80.3L465.1 80.7L461.5 83.8L462.6 88.4L458.5 85.9L454.5 88.4L455.6 83.8L452 80.7L456.7 80.3ZM462.8 65.1L464.7 69.5L469.4 69.9L465.8 73L466.9 77.6L462.8 75.1L458.8 77.6L459.9 73L456.3 69.9L461 69.5ZM467.1 59.3L469 63.7L473.7 64.1L470.1 67.2L471.2 71.8L467.1 69.3L463.1 71.8L464.2 67.2L460.6 64.1L465.3 63.7ZM471.5 57.3L473.3 61.7L478 62.1L474.4 65.2L475.5 69.8L471.5 67.3L467.4 69.8L468.5 65.2L464.9 62.1L469.6 61.7ZM475.8 52.4L477.6 56.8L482.3 57.2L478.7 60.3L479.8 64.9L475.8 62.4L471.7 64.9L472.8 60.3L469.2 57.2L473.9 56.8ZM480.1 61.2L481.9 65.6L486.6 66L483 69.1L484.1 73.7L480.1 71.2L476 73.7L477.1 69.1L473.5 66L478.3 65.6ZM484.4 49.9L486.2 54.3L491 54.7L487.3 57.8L488.5 62.4L484.4 59.9L480.3 62.4L481.4 57.8L477.8 54.7L482.6 54.3ZM488.7 48.9L490.5 53.3L495.3 53.7L491.7 56.8L492.8 61.4L488.7 58.9L484.7 61.4L485.8 56.8L482.1 53.7L486.9 53.3ZM493 49.3L494.8 53.7L499.6 54.1L496 57.2L497.1 61.8L493 59.3L489 61.8L490.1 57.2L486.5 54.1L491.2 53.7ZM497.3 49.7L499.2 54.1L503.9 54.5L500.3 57.6L501.4 62.2L497.3 59.7L493.3 62.2L494.4 57.6L490.8 54.5L495.5 54.1ZM501.6 50.1L503.5 54.5L508.2 54.9L504.6 58L505.7 62.6L501.6 60.1L497.6 62.6L498.7 58L495.1 54.9L499.8 54.5ZM506 49.9L507.8 54.3L512.5 54.7L508.9 57.8L510 62.4L506 59.9L501.9 62.4L503 57.8L499.4 54.7L504.1 54.3ZM510.3 50.3L512.1 54.7L516.8 55.1L513.2 58.2L514.3 62.8L510.3 60.3L506.2 62.8L507.3 58.2L503.7 55.1L508.4 54.7ZM514.6 49.9L516.4 54.3L521.1 54.7L517.5 57.8L518.6 62.4L514.6 59.9L510.5 62.4L511.6 57.8L508 54.7L512.8 54.3ZM518.9 50.1L520.7 54.5L525.5 54.9L521.8 58L522.9 62.6L518.9 60.1L514.8 62.6L515.9 58L512.3 54.9L517.1 54.5ZM523.2 48.9L525 53.3L529.8 53.7L526.2 56.8L527.3 61.4L523.2 58.9L519.1 61.4L520.3 56.8L516.6 53.7L521.4 53.3ZM527.5 50.1L529.3 54.5L534.1 54.9L530.5 58L531.6 62.6L527.5 60.1L523.5 62.6L524.6 58L521 54.9L525.7 54.5ZM531.8 51.9L533.7 56.3L538.4 56.7L534.8 59.8L535.9 64.4L531.8 61.9L527.8 64.4L528.9 59.8L525.3 56.7L530 56.3ZM536.1 50.3L538 54.7L542.7 55.1L539.1 58.2L540.2 62.8L536.1 60.3L532.1 62.8L533.2 58.2L529.6 55.1L534.3 54.7ZM540.5 48.9L542.3 53.3L547 53.7L543.4 56.8L544.5 61.4L540.5 58.9L536.4 61.4L537.5 56.8L533.9 53.7L538.6 53.3ZM544.8 49.1L546.6 53.5L551.3 53.9L547.7 57L548.8 61.6L544.8 59.1L540.7 61.6L541.8 57L538.2 53.9L542.9 53.5ZM549.1 48.9L550.9 53.3L555.6 53.7L552 56.8L553.1 61.4L549.1 58.9L545 61.4L546.1 56.8L542.5 53.7L547.3 53.3ZM553.4 50.1L555.2 54.5L560 54.9L556.3 58L557.4 62.6L553.4 60.1L549.3 62.6L550.4 58L546.8 54.9L551.6 54.5ZM557.7 52.9L559.5 57.3L564.3 57.7L560.7 60.8L561.8 65.4L557.7 62.9L553.6 65.4L554.7 60.8L551.1 57.7L555.9 57.3ZM562 48.9L563.8 53.3L568.6 53.7L565 56.8L566.1 61.4L562 58.9L558 61.4L559.1 56.8L555.4 53.7L560.2 53.3ZM566.3 49.3L568.1 53.7L572.9 54.1L569.3 57.2L570.4 61.8L566.3 59.3L562.3 61.8L563.4 57.2L559.8 54.1L564.5 53.7ZM570.6 48.9L572.5 53.3L577.2 53.7L573.6 56.8L574.7 61.4L570.6 58.9L566.6 61.4L567.7 56.8L564.1 53.7L568.8 53.3ZM574.9 50.1L576.8 54.5L581.5 54.9L577.9 58L579 62.6L574.9 60.1L570.9 62.6L572 58L568.4 54.9L573.1 54.5ZM579.3 49.6L581.1 54L585.8 54.4L582.2 57.5L583.3 62.1L579.3 59.6L575.2 62.1L576.3 57.5L572.7 54.4L577.4 54ZM583.6 47.6L585.4 52L590.1 52.4L586.5 55.5L587.6 60.1L583.6 57.6L579.5 60.1L580.6 55.5L577 52.4L581.7 52ZM587.9 51.6L589.7 56L594.4 56.4L590.8 59.5L591.9 64.1L587.9 61.6L583.8 64.1L584.9 59.5L581.3 56.4L586.1 56ZM592.2 51.6L594 56L598.8 56.4L595.1 59.5L596.3 64.1L592.2 61.6L588.1 64.1L589.2 59.5L585.6 56.4L590.4 56ZM596.5 49.6L598.3 54L603.1 54.4L599.5 57.5L600.6 62.1L596.5 59.6L592.5 62.1L593.6 57.5L589.9 54.4L594.7 54ZM600.8 49.1L602.6 53.5L607.4 53.9L603.8 57L604.9 61.6L600.8 59.1L596.8 61.6L597.9 57L594.3 53.9L599 53.5ZM605.1 51.6L607 56L611.7 56.4L608.1 59.5L609.2 64.1L605.1 61.6L601.1 64.1L602.2 59.5L598.6 56.4L603.3 56ZM609.4 51.6L611.3 56L616 56.4L612.4 59.5L613.5 64.1L609.4 61.6L605.4 64.1L606.5 59.5L602.9 56.4L607.6 56ZM613.8 49.1L615.6 53.5L620.3 53.9L616.7 57L617.8 61.6L613.8 59.1L609.7 61.6L610.8 57L607.2 53.9L611.9 53.5ZM618.1 51.9L619.9 56.3L624.6 56.7L621 59.8L622.1 64.4L618.1 61.9L614 64.4L615.1 59.8L611.5 56.7L616.2 56.3ZM622.4 50.1L624.2 54.5L628.9 54.9L625.3 58L626.4 62.6L622.4 60.1L618.3 62.6L619.4 58L615.8 54.9L620.6 54.5ZM626.7 48.9L628.5 53.3L633.3 53.7L629.6 56.8L630.7 61.4L626.7 58.9L622.6 61.4L623.7 56.8L620.1 53.7L624.9 53.3ZM631 49.1L632.8 53.5L637.6 53.9L634 57L635.1 61.6L631 59.1L626.9 61.6L628.1 57L624.4 53.9L629.2 53.5ZM635.3 48.9L637.1 53.3L641.9 53.7L638.3 56.8L639.4 61.4L635.3 58.9L631.3 61.4L632.4 56.8L628.8 53.7L633.5 53.3ZM639.6 53.3L641.5 57.7L646.2 58.1L642.6 61.2L643.7 65.8L639.6 63.3L635.6 65.8L636.7 61.2L633.1 58.1L637.8 57.7ZM643.9 50.6L645.8 55L650.5 55.4L646.9 58.5L648 63.1L643.9 60.6L639.9 63.1L641 58.5L637.4 55.4L642.1 55ZM648.3 50.1L650.1 54.5L654.8 54.9L651.2 58L652.3 62.6L648.3 60.1L644.2 62.6L645.3 58L641.7 54.9L646.4 54.5ZM652.6 49.4L654.4 53.8L659.1 54.2L655.5 57.3L656.6 61.9L652.6 59.4L648.5 61.9L649.6 57.3L646 54.2L650.7 53.8ZM656.9 51.6L658.7 56L663.4 56.4L659.8 59.5L660.9 64.1L656.9 61.6L652.8 64.1L653.9 59.5L650.3 56.4L655.1 56ZM661.2 50.1L663 54.5L667.8 54.9L664.1 58L665.2 62.6L661.2 60.1L657.1 62.6L658.2 58L654.6 54.9L659.4 54.5ZM665.5 49.6L667.3 54L672.1 54.4L668.5 57.5L669.6 62.1L665.5 59.6L661.4 62.1L662.5 57.5L658.9 54.4L663.7 54ZM669.8 48.1L671.6 52.5L676.4 52.9L672.8 56L673.9 60.6L669.8 58.1L665.8 60.6L666.9 56L663.2 52.9L668 52.5ZM674.1 49.6L675.9 54L680.7 54.4L677.1 57.5L678.2 62.1L674.1 59.6L670.1 62.1L671.2 57.5L667.6 54.4L672.3 54ZM678.4 49.3L680.3 53.7L685 54.1L681.4 57.2L682.5 61.8L678.4 59.3L674.4 61.8L675.5 57.2L671.9 54.1L676.6 53.7ZM682.7 53.3L684.6 57.7L689.3 58.1L685.7 61.2L686.8 65.8L682.7 63.3L678.7 65.8L679.8 61.2L676.2 58.1L680.9 57.7ZM687.1 50.1L688.9 54.5L693.6 54.9L690 58L691.1 62.6L687.1 60.1L683 62.6L684.1 58L680.5 54.9L685.2 54.5ZM691.4 48.2L693.2 52.6L697.9 53L694.3 56.1L695.4 60.7L691.4 58.2L687.3 60.7L688.4 56.1L684.8 53L689.5 52.6ZM695.7 47.9L697.5 52.3L702.2 52.7L698.6 55.8L699.7 60.4L695.7 57.9L691.6 60.4L692.7 55.8L689.1 52.7L693.9 52.3ZM700 48.2L701.8 52.6L706.6 53L702.9 56.1L704.1 60.7L700 58.2L695.9 60.7L697 56.1L693.4 53L698.2 52.6ZM704.3 48.6L706.1 53L710.9 53.4L707.3 56.5L708.4 61.1L704.3 58.6L700.3 61.1L701.4 56.5L697.7 53.4L702.5 53ZM708.6 47.7L710.4 52.1L715.2 52.5L711.6 55.6L712.7 60.2L708.6 57.7L704.6 60.2L705.7 55.6L702.1 52.5L706.8 52.1ZM712.9 47.7L714.8 52.1L719.5 52.5L715.9 55.6L717 60.2L712.9 57.7L708.9 60.2L710 55.6L706.4 52.5L711.1 52.1ZM717.2 48.8L719.1 53.2L723.8 53.6L720.2 56.7L721.3 61.3L717.2 58.8L713.2 61.3L714.3 56.7L710.7 53.6L715.4 53.2ZM721.6 48.4L723.4 52.8L728.1 53.2L724.5 56.3L725.6 60.9L721.6 58.4L717.5 60.9L718.6 56.3L715 53.2L719.7 52.8ZM725.9 47.7L727.7 52.1L732.4 52.5L728.8 55.6L729.9 60.2L725.9 57.7L721.8 60.2L722.9 55.6L719.3 52.5L724 52.1ZM730.2 48.2L732 52.6L736.7 53L733.1 56.1L734.2 60.7L730.2 58.2L726.1 60.7L727.2 56.1L723.6 53L728.4 52.6ZM734.5 48.4L736.3 52.8L741.1 53.2L737.4 56.3L738.5 60.9L734.5 58.4L730.4 60.9L731.5 56.3L727.9 53.2L732.7 52.8ZM738.8 47.7L740.6 52.1L745.4 52.5L741.8 55.6L742.9 60.2L738.8 57.7L734.7 60.2L735.9 55.6L732.2 52.5L737 52.1ZM743.1 48.4L744.9 52.8L749.7 53.2L746.1 56.3L747.2 60.9L743.1 58.4L739.1 60.9L740.2 56.3L736.6 53.2L741.3 52.8ZM747.4 47.9L749.3 52.3L754 52.7L750.4 55.8L751.5 60.4L747.4 57.9L743.4 60.4L744.5 55.8L740.9 52.7L745.6 52.3ZM751.7 47.7L753.6 52.1L758.3 52.5L754.7 55.6L755.8 60.2L751.7 57.7L747.7 60.2L748.8 55.6L745.2 52.5L749.9 52.1ZM756.1 47.7L757.9 52.1L762.6 52.5L759 55.6L760.1 60.2L756.1 57.7L752 60.2L753.1 55.6L749.5 52.5L754.2 52.1ZM760.4 48.2L762.2 52.6L766.9 53L763.3 56.1L764.4 60.7L760.4 58.2L756.3 60.7L757.4 56.1L753.8 53L758.5 52.6ZM764.7 48.2L766.5 52.6L771.2 53L767.6 56.1L768.7 60.7L764.7 58.2L760.6 60.7L761.7 56.1L758.1 53L762.9 52.6ZM769 47.7L770.8 52.1L775.6 52.5L771.9 55.6L773 60.2L769 57.7L764.9 60.2L766 55.6L762.4 52.5L767.2 52.1ZM773.3 47.9L775.1 52.3L779.9 52.7L776.3 55.8L777.4 60.4L773.3 57.9L769.2 60.4L770.3 55.8L766.7 52.7L771.5 52.3ZM777.6 47.7L779.4 52.1L784.2 52.5L780.6 55.6L781.7 60.2L777.6 57.7L773.6 60.2L774.7 55.6L771 52.5L775.8 52.1ZM781.9 48.4L783.7 52.8L788.5 53.2L784.9 56.3L786 60.9L781.9 58.4L777.9 60.9L779 56.3L775.4 53.2L780.1 52.8ZM786.2 48.2L788.1 52.6L792.8 53L789.2 56.1L790.3 60.7L786.2 58.2L782.2 60.7L783.3 56.1L779.7 53L784.4 52.6ZM790.5 47.7L792.4 52.1L797.1 52.5L793.5 55.6L794.6 60.2L790.5 57.7L786.5 60.2L787.6 55.6L784 52.5L788.7 52.1ZM794.9 48.8L796.7 53.2L801.4 53.6L797.8 56.7L798.9 61.3L794.9 58.8L790.8 61.3L791.9 56.7L788.3 53.6L793 53.2ZM799.2 48.4L801 52.8L805.7 53.2L802.1 56.3L803.2 60.9L799.2 58.4L795.1 60.9L796.2 56.3L792.6 53.2L797.3 52.8ZM803.5 47.7L805.3 52.1L810 52.5L806.4 55.6L807.5 60.2L803.5 57.7L799.4 60.2L800.5 55.6L796.9 52.5L801.7 52.1ZM807.8 47.9L809.6 52.3L814.4 52.7L810.7 55.8L811.9 60.4L807.8 57.9L803.7 60.4L804.8 55.8L801.2 52.7L806 52.3ZM812.1 48.6L813.9 53L818.7 53.4L815.1 56.5L816.2 61.1L812.1 58.6L808.1 61.1L809.2 56.5L805.5 53.4L810.3 53ZM816.4 48.6L818.2 53L823 53.4L819.4 56.5L820.5 61.1L816.4 58.6L812.4 61.1L813.5 56.5L809.9 53.4L814.6 53ZM820.7 48.4L822.6 52.8L827.3 53.2L823.7 56.3L824.8 60.9L820.7 58.4L816.7 60.9L817.8 56.3L814.2 53.2L818.9 52.8ZM825 47.7L826.9 52.1L831.6 52.5L828 55.6L829.1 60.2L825 57.7L821 60.2L822.1 55.6L818.5 52.5L823.2 52.1ZM829.4 48.4L831.2 52.8L835.9 53.2L832.3 56.3L833.4 60.9L829.4 58.4L825.3 60.9L826.4 56.3L822.8 53.2L827.5 52.8ZM833.7 48.4L835.5 52.8L840.2 53.2L836.6 56.3L837.7 60.9L833.7 58.4L829.6 60.9L830.7 56.3L827.1 53.2L831.8 52.8ZM838 48.2L839.8 52.6L844.5 53L840.9 56.1L842 60.7L838 58.2L833.9 60.7L835 56.1L831.4 53L836.2 52.6ZM842.3 47.7L844.1 52.1L848.9 52.5L845.2 55.6L846.3 60.2L842.3 57.7L838.2 60.2L839.3 55.6L835.7 52.5L840.5 52.1ZM846.6 47.9L848.4 52.3L853.2 52.7L849.6 55.8L850.7 60.4L846.6 57.9L842.5 60.4L843.7 55.8L840 52.7L844.8 52.3ZM850.9 47.7L852.7 52.1L857.5 52.5L853.9 55.6L855 60.2L850.9 57.7L846.9 60.2L848 55.6L844.4 52.5L849.1 52.1ZM855.2 48.4L857.1 52.8L861.8 53.2L858.2 56.3L859.3 60.9L855.2 58.4L851.2 60.9L852.3 56.3L848.7 53.2L853.4 52.8ZM859.5 48.8L861.4 53.2L866.1 53.6L862.5 56.7L863.6 61.3L859.5 58.8L855.5 61.3L856.6 56.7L853 53.6L857.7 53.2ZM863.9 47.9L865.7 52.3L870.4 52.7L866.8 55.8L867.9 60.4L863.9 57.9L859.8 60.4L860.9 55.8L857.3 52.7L862 52.3ZM868.2 48.2L870 52.6L874.7 53L871.1 56.1L872.2 60.7L868.2 58.2L864.1 60.7L865.2 56.1L861.6 53L866.3 52.6ZM872.5 48.2L874.3 52.6L879 53L875.4 56.1L876.5 60.7L872.5 58.2L868.4 60.7L869.5 56.1L865.9 53L870.7 52.6ZM876.8 47.9L878.6 52.3L883.4 52.7L879.7 55.8L880.8 60.4L876.8 57.9L872.7 60.4L873.8 55.8L870.2 52.7L875 52.3ZM881.1 48.4L882.9 52.8L887.7 53.2L884.1 56.3L885.2 60.9L881.1 58.4L877 60.9L878.1 56.3L874.5 53.2L879.3 52.8ZM885.4 47.7L887.2 52.1L892 52.5L888.4 55.6L889.5 60.2L885.4 57.7L881.4 60.2L882.5 55.6L878.8 52.5L883.6 52.1ZM889.7 48.4L891.5 52.8L896.3 53.2L892.7 56.3L893.8 60.9L889.7 58.4L885.7 60.9L886.8 56.3L883.2 53.2L887.9 52.8ZM894 48.2L895.9 52.6L900.6 53L897 56.1L898.1 60.7L894 58.2L890 60.7L891.1 56.1L887.5 53L892.2 52.6ZM898.3 48.4L900.2 52.8L904.9 53.2L901.3 56.3L902.4 60.9L898.3 58.4L894.3 60.9L895.4 56.3L891.8 53.2L896.5 52.8ZM902.7 48.8L904.5 53.2L909.2 53.6L905.6 56.7L906.7 61.3L902.7 58.8L898.6 61.3L899.7 56.7L896.1 53.6L900.8 53.2ZM907 48.6L908.8 53L913.5 53.4L909.9 56.5L911 61.1L907 58.6L902.9 61.1L904 56.5L900.4 53.4L905.1 53ZM911.3 47.9L913.1 52.3L917.8 52.7L914.2 55.8L915.3 60.4L911.3 57.9L907.2 60.4L908.3 55.8L904.7 52.7L909.5 52.3ZM915.6 47.7L917.4 52.1L922.2 52.5L918.5 55.6L919.7 60.2L915.6 57.7L911.5 60.2L912.6 55.6L909 52.5L913.8 52.1ZM919.9 48.4L921.7 52.8L926.5 53.2L922.9 56.3L924 60.9L919.9 58.4L915.9 60.9L917 56.3L913.3 53.2L918.1 52.8ZM924.2 48.4L926 52.8L930.8 53.2L927.2 56.3L928.3 60.9L924.2 58.4L920.2 60.9L921.3 56.3L917.7 53.2L922.4 52.8ZM928.5 48.6L930.4 53L935.1 53.4L931.5 56.5L932.6 61.1L928.5 58.6L924.5 61.1L925.6 56.5L922 53.4L926.7 53ZM932.8 47.9L934.7 52.3L939.4 52.7L935.8 55.8L936.9 60.4L932.8 57.9L928.8 60.4L929.9 55.8L926.3 52.7L931 52.3ZM937.2 48.2L939 52.6L943.7 53L940.1 56.1L941.2 60.7L937.2 58.2L933.1 60.7L934.2 56.1L930.6 53L935.3 52.6ZM941.5 47.7L943.3 52.1L948 52.5L944.4 55.6L945.5 60.2L941.5 57.7L937.4 60.2L938.5 55.6L934.9 52.5L939.6 52.1ZM945.8 48.4L947.6 52.8L952.3 53.2L948.7 56.3L949.8 60.9L945.8 58.4L941.7 60.9L942.8 56.3L939.2 53.2L944 52.8ZM950.1 48.6L951.9 53L956.7 53.4L953 56.5L954.1 61.1L950.1 58.6L946 61.1L947.1 56.5L943.5 53.4L948.3 53ZM954.4 47.7L956.2 52.1L961 52.5L957.4 55.6L958.5 60.2L954.4 57.7L950.3 60.2L951.5 55.6L947.8 52.5L952.6 52.1ZM958.7 48.4L960.5 52.8L965.3 53.2L961.7 56.3L962.8 60.9L958.7 58.4L954.7 60.9L955.8 56.3L952.2 53.2L956.9 52.8ZM963 47.7L964.9 52.1L969.6 52.5L966 55.6L967.1 60.2L963 57.7L959 60.2L960.1 55.6L956.5 52.5L961.2 52.1ZM967.3 48.4L969.2 52.8L973.9 53.2L970.3 56.3L971.4 60.9L967.3 58.4L963.3 60.9L964.4 56.3L960.8 53.2L965.5 52.8ZM971.7 47.9L973.5 52.3L978.2 52.7L974.6 55.8L975.7 60.4L971.7 57.9L967.6 60.4L968.7 55.8L965.1 52.7L969.8 52.3ZM976 48.2L977.8 52.6L982.5 53L978.9 56.1L980 60.7L976 58.2L971.9 60.7L973 56.1L969.4 53L974.1 52.6ZM980.3 48.6L982.1 53L986.8 53.4L983.2 56.5L984.3 61.1L980.3 58.6L976.2 61.1L977.3 56.5L973.7 53.4L978.5 53ZM984.6 48.4L986.4 52.8L991.2 53.2L987.5 56.3L988.6 60.9L984.6 58.4L980.5 60.9L981.6 56.3L978 53.2L982.8 52.8ZM988.9 48.2L990.7 52.6L995.5 53L991.9 56.1L993 60.7L988.9 58.2L984.8 60.7L985.9 56.1L982.3 53L987.1 52.6Z"/>
<rect x="105.3" y="9.7" width="905.1" height="682.5" fill="none" stroke="#000" stroke-width="3.1"/>
<rect x="314.4" y="403.5" width="152.6" height="257.9" fill="#d9eed9"/>
<svg x="314.4" y="403.5" width="152.6" height="257.9" viewBox="314.4 403.5 152.6 257.9" overflow="hidden">
<polyline fill="none" stroke="#0000ff" stroke-width="3.4" stroke-linejoin="round" points="355.4,403 343.4,662"/>
<polyline fill="none" stroke="#008000" stroke-width="3.4" stroke-linejoin="round" points="377.4,403 354.2,662"/>
<polyline fill="none" stroke="#ff0000" stroke-width="3.4" stroke-linejoin="round" points="463,403 432.7,469.8 413.7,522.4 404.9,578 396.7,639.5 388.5,662"/>
</svg>
<rect x="314.4" y="403.5" width="152.6" height="257.9" fill="none" stroke="#000" stroke-width="2.3"/>
<line x1="324.4" y1="661.4" x2="324.4" y2="663.9" stroke="#000" stroke-width="1.3"/>
<text x="324.4" y="680.8" font-size="19" text-anchor="middle" font-weight="bold">20</text>
<line x1="360.1" y1="661.4" x2="360.1" y2="663.9" stroke="#000" stroke-width="1.3"/>
<text x="360.1" y="680.8" font-size="19" text-anchor="middle" font-weight="bold">22</text>
<line x1="396.1" y1="661.4" x2="396.1" y2="663.9" stroke="#000" stroke-width="1.3"/>
<text x="396.1" y="680.8" font-size="19" text-anchor="middle" font-weight="bold">24</text>
<line x1="431.8" y1="661.4" x2="431.8" y2="663.9" stroke="#000" stroke-width="1.3"/>
<text x="431.8" y="680.8" font-size="19" text-anchor="middle" font-weight="bold">26</text>
<line x1="311.9" y1="448.7" x2="314.4" y2="448.7" stroke="#000" stroke-width="1.3"/>
<text x="311" y="455" font-size="19" text-anchor="end" font-weight="bold">0.70</text>
<line x1="311.9" y1="537.7" x2="314.4" y2="537.7" stroke="#000" stroke-width="1.3"/>
<text x="311" y="544" font-size="19" text-anchor="end" font-weight="bold">0.65</text>
<line x1="311.9" y1="625.8" x2="314.4" y2="625.8" stroke="#000" stroke-width="1.3"/>
<text x="311" y="632.1" font-size="19" text-anchor="end" font-weight="bold">0.60</text>
<polyline fill="none" stroke="#000" stroke-width="3.1" stroke-linejoin="miter" points="255.8,318.6 264,318.6 319.5,389.7"/>
<path d="M332.4 406.3L313.4 392L323.1 384.4Z" fill="#000"/>
<rect x="515.1" y="508.5" width="478.4" height="151.5" fill="#fff" stroke="#ff0000" stroke-width="2.6"/>
<line x1="519.3" y1="529.2" x2="585.7" y2="529.2" stroke="#800080" stroke-width="2.6"/>
<path d="M548.2 524.9h8.6v8.6h-8.6Z" fill="#800080"/>
<text x="594.8" y="539.2" font-size="30.35" text-anchor="start" font-weight="normal">Testing Accuracy(W/0-DFL)</text>
<line x1="519.3" y1="566.3" x2="585.7" y2="566.3" stroke="#ff7f0e" stroke-width="2.6"/>
<path d="M552.5 574.3L545.9 562.3L559.1 562.3Z" fill="#ff7f0e"/>
<text x="594.8" y="576.3" font-size="30.35" text-anchor="start" font-weight="normal">Testing Accuracy(W/0-JMSD)</text>
<line x1="519.3" y1="603" x2="585.7" y2="603" stroke="#008000" stroke-width="2.6"/>
<path d="M552.5 596.9L547.2 606L557.8 606Z" fill="#008000"/>
<text x="594.8" y="613" font-size="30.35" text-anchor="start" font-weight="normal">Testing Accuracy(W/0-JMSD)</text>
<line x1="519.3" y1="639.9" x2="585.7" y2="639.9" stroke="#0000ff" stroke-width="2.6"/>
<path d="M552.5 633L554.3 637.4L559.1 637.8L555.5 640.9L556.6 645.5L552.5 643L548.4 645.5L549.5 640.9L545.9 637.8L550.7 637.4Z" fill="#0000ff"/>
<text x="594.8" y="649.9" font-size="30.35" text-anchor="start" font-weight="normal">Testing Accuracy(MDJSN-DFL)</text>
</g>
<g id="chart-b">
<line x1="130" y1="1530" x2="130" y2="1538.5" stroke="#000" stroke-width="2.6"/>
<text x="130" y="1572.2" font-size="35.5" text-anchor="middle" font-weight="normal">0</text>
<line x1="238" y1="1530" x2="238" y2="1538.5" stroke="#000" stroke-width="2.6"/>
<text x="238" y="1572.2" font-size="35.5" text-anchor="middle" font-weight="normal">25</text>
<line x1="346" y1="1530" x2="346" y2="1538.5" stroke="#000" stroke-width="2.6"/>
<text x="346" y="1572.2" font-size="35.5" text-anchor="middle" font-weight="normal">50</text>
<line x1="454" y1="1530" x2="454" y2="1538.5" stroke="#000" stroke-width="2.6"/>
<text x="454" y="1572.2" font-size="35.5" text-anchor="middle" font-weight="normal">75</text>
<line x1="562" y1="1530" x2="562" y2="1538.5" stroke="#000" stroke-width="2.6"/>
<text x="562" y="1572.2" font-size="35.5" text-anchor="middle" font-weight="normal">100</text>
<line x1="670" y1="1530" x2="670" y2="1538.5" stroke="#000" stroke-width="2.6"/>
<text x="670" y="1572.2" font-size="35.5" text-anchor="middle" font-weight="normal">125</text>
<line x1="778" y1="1530" x2="778" y2="1538.5" stroke="#000" stroke-width="2.6"/>
<text x="778" y="1572.2" font-size="35.5" text-anchor="middle" font-weight="normal">150</text>
<line x1="886" y1="1530" x2="886" y2="1538.5" stroke="#000" stroke-width="2.6"/>
<text x="886" y="1572.2" font-size="35.5" text-anchor="middle" font-weight="normal">175</text>
<line x1="994" y1="1530" x2="994" y2="1538.5" stroke="#000" stroke-width="2.6"/>
<text x="994" y="1572.2" font-size="35.5" text-anchor="middle" font-weight="normal">200</text>
<line x1="100.2" y1="1482" x2="108.7" y2="1482" stroke="#000" stroke-width="2.6"/>
<text x="95.9" y="1493.3" font-size="35.5" text-anchor="end" font-weight="normal">0.4</text>
<line x1="100.2" y1="1384" x2="108.7" y2="1384" stroke="#000" stroke-width="2.6"/>
<text x="95.9" y="1395.3" font-size="35.5" text-anchor="end" font-weight="normal">0.5</text>
<line x1="100.2" y1="1286.1" x2="108.7" y2="1286.1" stroke="#000" stroke-width="2.6"/>
<text x="95.9" y="1297.4" font-size="35.5" text-anchor="end" font-weight="normal">0.6</text>
<line x1="100.2" y1="1188.2" x2="108.7" y2="1188.2" stroke="#000" stroke-width="2.6"/>
<text x="95.9" y="1199.5" font-size="35.5" text-anchor="end" font-weight="normal">0.7</text>
<line x1="100.2" y1="1090.3" x2="108.7" y2="1090.3" stroke="#000" stroke-width="2.6"/>
<text x="95.9" y="1101.6" font-size="35.5" text-anchor="end" font-weight="normal">0.8</text>
<line x1="100.2" y1="992.3" x2="108.7" y2="992.3" stroke="#000" stroke-width="2.6"/>
<text x="95.9" y="1003.6" font-size="35.5" text-anchor="end" font-weight="normal">0.9</text>
<line x1="100.2" y1="894.4" x2="108.7" y2="894.4" stroke="#000" stroke-width="2.6"/>
<text x="95.9" y="905.7" font-size="35.5" text-anchor="end" font-weight="normal">1.0</text>
<text x="557.9" y="1612.9" font-size="34.8" text-anchor="middle" font-weight="normal">Epoch</text>
<text transform="translate(40.2 1188.4) rotate(-90)" font-size="35.3" text-anchor="middle">Testing Accuracy</text>
<text x="558.8" y="1655.5" font-size="48" text-anchor="middle" font-weight="bold">(b)</text>
<line x1="194.8" y1="1163.9" x2="199.5" y2="1163.9" stroke="#000" stroke-width="3.1"/>
<line x1="205" y1="1163.9" x2="216.7" y2="1163.9" stroke="#000" stroke-width="3.1"/>
<line x1="222.9" y1="1163.9" x2="233.3" y2="1163.9" stroke="#000" stroke-width="3.1"/>
<polyline fill="none" stroke="#800080" stroke-width="2.6" stroke-linejoin="round" points="134.3,1337.1 138.6,1209.4 143,1336.4 147.3,1258.1 151.6,1278.5 155.9,1261.4 160.2,1231.1 164.6,1262 168.9,1249.5 173.2,1260 177.5,1258.7 181.8,1261.4 186.2,1251 190.5,1244 194.8,1246 199.1,1244 203.4,1234 207.8,1223.2 212.1,1221.9 216.4,1226 220.7,1224.5 225,1214.3 229.4,1200.2 233.7,1223.7 238,1234.6 242.3,1219 246.6,1244 251,1227.6 255.3,1215.9 259.6,1202.6 263.9,1223.7 268.2,1215.1 272.6,1211.2 276.9,1220.5 281.2,1225.2 285.5,1202.6 289.8,1206.5 294.2,1203.4 298.5,1202.6 302.8,1215.1 307.1,1206.5 311.4,1206.5 315.8,1187 320.1,1181.5 324.4,1187.8 328.7,1166.7 333,1161.2 337.4,1168 341.7,1167.1 346,1185.6 350.3,1183.7 354.6,1151.5 359,1131 363.3,1121.2 367.6,1105.6 371.9,1106.6 376.2,1102.7 380.6,1098.8 384.9,1102.7 389.2,1092.9 393.5,1102.7 397.8,1094.9 402.2,1100.7 406.5,1090 410.8,1081.2 415.1,1090 419.4,1085.1 423.8,1092.9 428.1,1086.1 432.4,1105.6 436.7,1103.7 441,1096.8 445.4,1091 449.7,1082.2 454,1077.3 458.3,1076.3 462.6,1078.3 467,1079.3 471.3,1085.1 475.6,1078.3 479.9,1084.1 484.2,1091 488.6,1092.9 492.9,1095.9 497.2,1092.9 501.5,1098.8 505.8,1094.9 510.2,1090 514.5,1089 518.8,1082.2 523.1,1082.2 527.4,1075.4 531.8,1076.3 536.1,1077.3 540.4,1090 544.7,1075.4 549,1079.3 553.4,1078.3 557.7,1081.2 562,1072.4 566.3,1077.3 570.6,1078.3 575,1062.7 579.3,1075.4 583.6,1071.5 587.9,1073.4 592.2,1074.4 596.6,1074.4 600.9,1083.2 605.2,1086.1 609.5,1082.2 613.8,1076.3 618.2,1085.1 622.5,1071.5 626.8,1078.3 631.1,1078.3 635.4,1078.3 639.8,1083.2 644.1,1089 648.4,1087.1 652.7,1094.9 657,1090 661.4,1083.2 665.7,1078.3 670,1073.4 674.3,1074.4 678.6,1078.3 683,1077.3 687.3,1078.3 691.6,1081.2 695.9,1082.2 700.2,1081.2 704.6,1088 708.9,1071.5 713.2,1075.4 717.5,1075.4 721.8,1077.3 726.2,1074.4 730.5,1071.5 734.8,1071.5 739.1,1073.4 743.4,1070.5 747.8,1074.4 752.1,1086.1 756.4,1069.5 760.7,1069.5 765,1076.3 769.4,1072.4 773.7,1081.2 778,1083.2 782.3,1089 786.6,1083.2 791,1079.3 795.3,1073.4 799.6,1065.6 803.9,1080.2 808.2,1063.7 812.6,1079.3 816.9,1072.4 821.2,1063.7 825.5,1071.5 829.8,1078.3 834.2,1078.3 838.5,1062.7 842.8,1065.6 847.1,1066.6 851.4,1066.6 855.8,1052 860.1,1067.6 864.4,1064.6 868.7,1070.5 873,1068.5 877.4,1064.6 881.7,1062.7 886,1060.7 890.3,1062.7 894.6,1068.5 899,1061.7 903.3,1069.5 907.6,1057.8 911.9,1052.9 916.2,1051 920.6,1050 924.9,1048 929.2,1042.2 933.5,1049 937.8,1056.8 942.2,1058.8 946.5,1051 950.8,1048 955.1,1042.2 959.4,1042.2 963.8,1050 968.1,1051 972.4,1043.2 976.7,1040.2 981,1049 985.4,1051 989.7,1035.4 994,1051"/>
<path fill="#800080" d="M130.1 1332.9h8.4v8.4h-8.4ZM134.4 1205.2h8.4v8.4h-8.4ZM138.8 1332.2h8.4v8.4h-8.4ZM143.1 1253.9h8.4v8.4h-8.4ZM147.4 1274.3h8.4v8.4h-8.4ZM151.7 1257.2h8.4v8.4h-8.4ZM156 1226.9h8.4v8.4h-8.4ZM160.4 1257.8h8.4v8.4h-8.4ZM164.7 1245.3h8.4v8.4h-8.4ZM169 1255.8h8.4v8.4h-8.4ZM173.3 1254.5h8.4v8.4h-8.4ZM177.6 1257.2h8.4v8.4h-8.4ZM182 1246.8h8.4v8.4h-8.4ZM186.3 1239.8h8.4v8.4h-8.4ZM190.6 1241.8h8.4v8.4h-8.4ZM194.9 1239.8h8.4v8.4h-8.4ZM199.2 1229.8h8.4v8.4h-8.4ZM203.6 1219h8.4v8.4h-8.4ZM207.9 1217.7h8.4v8.4h-8.4ZM212.2 1221.8h8.4v8.4h-8.4ZM216.5 1220.3h8.4v8.4h-8.4ZM220.8 1210.1h8.4v8.4h-8.4ZM225.2 1196h8.4v8.4h-8.4ZM229.5 1219.5h8.4v8.4h-8.4ZM233.8 1230.4h8.4v8.4h-8.4ZM238.1 1214.8h8.4v8.4h-8.4ZM242.4 1239.8h8.4v8.4h-8.4ZM246.8 1223.4h8.4v8.4h-8.4ZM251.1 1211.7h8.4v8.4h-8.4ZM255.4 1198.4h8.4v8.4h-8.4ZM259.7 1219.5h8.4v8.4h-8.4ZM264 1210.9h8.4v8.4h-8.4ZM268.4 1207h8.4v8.4h-8.4ZM272.7 1216.3h8.4v8.4h-8.4ZM277 1221h8.4v8.4h-8.4ZM281.3 1198.4h8.4v8.4h-8.4ZM285.6 1202.3h8.4v8.4h-8.4ZM290 1199.2h8.4v8.4h-8.4ZM294.3 1198.4h8.4v8.4h-8.4ZM298.6 1210.9h8.4v8.4h-8.4ZM302.9 1202.3h8.4v8.4h-8.4ZM307.2 1202.3h8.4v8.4h-8.4ZM311.6 1182.8h8.4v8.4h-8.4ZM315.9 1177.3h8.4v8.4h-8.4ZM320.2 1183.6h8.4v8.4h-8.4ZM324.5 1162.5h8.4v8.4h-8.4ZM328.8 1157h8.4v8.4h-8.4ZM333.2 1163.8h8.4v8.4h-8.4ZM337.5 1162.9h8.4v8.4h-8.4ZM341.8 1181.4h8.4v8.4h-8.4ZM346.1 1179.5h8.4v8.4h-8.4ZM350.4 1147.3h8.4v8.4h-8.4ZM354.8 1126.8h8.4v8.4h-8.4ZM359.1 1117h8.4v8.4h-8.4ZM363.4 1101.4h8.4v8.4h-8.4ZM367.7 1102.4h8.4v8.4h-8.4ZM372 1098.5h8.4v8.4h-8.4ZM376.4 1094.6h8.4v8.4h-8.4ZM380.7 1098.5h8.4v8.4h-8.4ZM385 1088.7h8.4v8.4h-8.4ZM389.3 1098.5h8.4v8.4h-8.4ZM393.6 1090.7h8.4v8.4h-8.4ZM398 1096.5h8.4v8.4h-8.4ZM402.3 1085.8h8.4v8.4h-8.4ZM406.6 1077h8.4v8.4h-8.4ZM410.9 1085.8h8.4v8.4h-8.4ZM415.2 1080.9h8.4v8.4h-8.4ZM419.6 1088.7h8.4v8.4h-8.4ZM423.9 1081.9h8.4v8.4h-8.4ZM428.2 1101.4h8.4v8.4h-8.4ZM432.5 1099.5h8.4v8.4h-8.4ZM436.8 1092.6h8.4v8.4h-8.4ZM441.2 1086.8h8.4v8.4h-8.4ZM445.5 1078h8.4v8.4h-8.4ZM449.8 1073.1h8.4v8.4h-8.4ZM454.1 1072.1h8.4v8.4h-8.4ZM458.4 1074.1h8.4v8.4h-8.4ZM462.8 1075.1h8.4v8.4h-8.4ZM467.1 1080.9h8.4v8.4h-8.4ZM471.4 1074.1h8.4v8.4h-8.4ZM475.7 1079.9h8.4v8.4h-8.4ZM480 1086.8h8.4v8.4h-8.4ZM484.4 1088.7h8.4v8.4h-8.4ZM488.7 1091.7h8.4v8.4h-8.4ZM493 1088.7h8.4v8.4h-8.4ZM497.3 1094.6h8.4v8.4h-8.4ZM501.6 1090.7h8.4v8.4h-8.4ZM506 1085.8h8.4v8.4h-8.4ZM510.3 1084.8h8.4v8.4h-8.4ZM514.6 1078h8.4v8.4h-8.4ZM518.9 1078h8.4v8.4h-8.4ZM523.2 1071.2h8.4v8.4h-8.4ZM527.6 1072.1h8.4v8.4h-8.4ZM531.9 1073.1h8.4v8.4h-8.4ZM536.2 1085.8h8.4v8.4h-8.4ZM540.5 1071.2h8.4v8.4h-8.4ZM544.8 1075.1h8.4v8.4h-8.4ZM549.2 1074.1h8.4v8.4h-8.4ZM553.5 1077h8.4v8.4h-8.4ZM557.8 1068.2h8.4v8.4h-8.4ZM562.1 1073.1h8.4v8.4h-8.4ZM566.4 1074.1h8.4v8.4h-8.4ZM570.8 1058.5h8.4v8.4h-8.4ZM575.1 1071.2h8.4v8.4h-8.4ZM579.4 1067.3h8.4v8.4h-8.4ZM583.7 1069.2h8.4v8.4h-8.4ZM588 1070.2h8.4v8.4h-8.4ZM592.4 1070.2h8.4v8.4h-8.4ZM596.7 1079h8.4v8.4h-8.4ZM601 1081.9h8.4v8.4h-8.4ZM605.3 1078h8.4v8.4h-8.4ZM609.6 1072.1h8.4v8.4h-8.4ZM614 1080.9h8.4v8.4h-8.4ZM618.3 1067.3h8.4v8.4h-8.4ZM622.6 1074.1h8.4v8.4h-8.4ZM626.9 1074.1h8.4v8.4h-8.4ZM631.2 1074.1h8.4v8.4h-8.4ZM635.6 1079h8.4v8.4h-8.4ZM639.9 1084.8h8.4v8.4h-8.4ZM644.2 1082.9h8.4v8.4h-8.4ZM648.5 1090.7h8.4v8.4h-8.4ZM652.8 1085.8h8.4v8.4h-8.4ZM657.2 1079h8.4v8.4h-8.4ZM661.5 1074.1h8.4v8.4h-8.4ZM665.8 1069.2h8.4v8.4h-8.4ZM670.1 1070.2h8.4v8.4h-8.4ZM674.4 1074.1h8.4v8.4h-8.4ZM678.8 1073.1h8.4v8.4h-8.4ZM683.1 1074.1h8.4v8.4h-8.4ZM687.4 1077h8.4v8.4h-8.4ZM691.7 1078h8.4v8.4h-8.4ZM696 1077h8.4v8.4h-8.4ZM700.4 1083.8h8.4v8.4h-8.4ZM704.7 1067.3h8.4v8.4h-8.4ZM709 1071.2h8.4v8.4h-8.4ZM713.3 1071.2h8.4v8.4h-8.4ZM717.6 1073.1h8.4v8.4h-8.4ZM722 1070.2h8.4v8.4h-8.4ZM726.3 1067.3h8.4v8.4h-8.4ZM730.6 1067.3h8.4v8.4h-8.4ZM734.9 1069.2h8.4v8.4h-8.4ZM739.2 1066.3h8.4v8.4h-8.4ZM743.6 1070.2h8.4v8.4h-8.4ZM747.9 1081.9h8.4v8.4h-8.4ZM752.2 1065.3h8.4v8.4h-8.4ZM756.5 1065.3h8.4v8.4h-8.4ZM760.8 1072.1h8.4v8.4h-8.4ZM765.2 1068.2h8.4v8.4h-8.4ZM769.5 1077h8.4v8.4h-8.4ZM773.8 1079h8.4v8.4h-8.4ZM778.1 1084.8h8.4v8.4h-8.4ZM782.4 1079h8.4v8.4h-8.4ZM786.8 1075.1h8.4v8.4h-8.4ZM791.1 1069.2h8.4v8.4h-8.4ZM795.4 1061.4h8.4v8.4h-8.4ZM799.7 1076h8.4v8.4h-8.4ZM804 1059.5h8.4v8.4h-8.4ZM808.4 1075.1h8.4v8.4h-8.4ZM812.7 1068.2h8.4v8.4h-8.4ZM817 1059.5h8.4v8.4h-8.4ZM821.3 1067.3h8.4v8.4h-8.4ZM825.6 1074.1h8.4v8.4h-8.4ZM830 1074.1h8.4v8.4h-8.4ZM834.3 1058.5h8.4v8.4h-8.4ZM838.6 1061.4h8.4v8.4h-8.4ZM842.9 1062.4h8.4v8.4h-8.4ZM847.2 1062.4h8.4v8.4h-8.4ZM851.6 1047.8h8.4v8.4h-8.4ZM855.9 1063.4h8.4v8.4h-8.4ZM860.2 1060.4h8.4v8.4h-8.4ZM864.5 1066.3h8.4v8.4h-8.4ZM868.8 1064.3h8.4v8.4h-8.4ZM873.2 1060.4h8.4v8.4h-8.4ZM877.5 1058.5h8.4v8.4h-8.4ZM881.8 1056.5h8.4v8.4h-8.4ZM886.1 1058.5h8.4v8.4h-8.4ZM890.4 1064.3h8.4v8.4h-8.4ZM894.8 1057.5h8.4v8.4h-8.4ZM899.1 1065.3h8.4v8.4h-8.4ZM903.4 1053.6h8.4v8.4h-8.4ZM907.7 1048.7h8.4v8.4h-8.4ZM912 1046.8h8.4v8.4h-8.4ZM916.4 1045.8h8.4v8.4h-8.4ZM920.7 1043.8h8.4v8.4h-8.4ZM925 1038h8.4v8.4h-8.4ZM929.3 1044.8h8.4v8.4h-8.4ZM933.6 1052.6h8.4v8.4h-8.4ZM938 1054.6h8.4v8.4h-8.4ZM942.3 1046.8h8.4v8.4h-8.4ZM946.6 1043.8h8.4v8.4h-8.4ZM950.9 1038h8.4v8.4h-8.4ZM955.2 1038h8.4v8.4h-8.4ZM959.6 1045.8h8.4v8.4h-8.4ZM963.9 1046.8h8.4v8.4h-8.4ZM968.2 1039h8.4v8.4h-8.4ZM972.5 1036h8.4v8.4h-8.4ZM976.8 1044.8h8.4v8.4h-8.4ZM981.2 1046.8h8.4v8.4h-8.4ZM985.5 1031.2h8.4v8.4h-8.4ZM989.8 1046.8h8.4v8.4h-8.4Z"/>
<polyline fill="none" stroke="#ff7f0e" stroke-width="2.6" stroke-linejoin="round" points="134.3,1475.7 138.6,1435.9 143,1485.8 147.3,1378 151.6,1447.7 155.9,1442.9 160.2,1351.2 164.6,1301.5 168.9,1266.5 173.2,1253.5 177.5,1256.5 181.8,1245.5 186.2,1231.3 190.5,1235.5 194.8,1226 199.1,1234.5 203.4,1239.5 207.8,1232.5 212.1,1214.2 216.4,1199 220.7,1197 225,1092.5 229.4,1034.7 233.7,1024.7 238,1028 242.3,1027.2 246.6,1026.3 251,1037.2 255.3,1038.1 259.6,1036.4 263.9,1038.1 268.2,997 272.6,1002 276.9,1002 281.2,991.1 285.5,987.8 289.8,989.5 294.2,988.6 298.5,998.7 302.8,1011.3 307.1,1006.2 311.4,993.7 315.8,999.5 320.1,974.4 324.4,965.2 328.7,971.9 333,974.4 337.4,976.4 341.7,978.3 346,997.8 350.3,1001.7 354.6,1007.6 359,967.6 363.3,969.5 367.6,971.5 371.9,974.4 376.2,961.7 380.6,962.7 384.9,975.4 389.2,991 393.5,994.9 397.8,980.3 402.2,973.5 406.5,968.6 410.8,965.6 415.1,961.7 419.4,955.9 423.8,958.8 428.1,969.5 432.4,987.1 436.7,1005.6 441,1012.5 445.4,988.1 449.7,1000.8 454,968.6 458.3,966.6 462.6,963.7 467,966.6 471.3,976.4 475.6,982.2 479.9,1012.5 484.2,1004.7 488.6,992 492.9,976.4 497.2,964.7 501.5,966.6 505.8,967.6 510.2,967.6 514.5,971.5 518.8,999.8 523.1,1000.8 527.4,1004.7 531.8,993 536.1,976.4 540.4,967.6 544.7,965.6 549,958.8 553.4,961.7 557.7,958.8 562,985.2 566.3,998.8 570.6,1001.7 575,1000.8 579.3,980.3 583.6,952 587.9,953.9 592.2,962.7 596.6,964.7 600.9,1008.6 605.2,969.5 609.5,1004.7 613.8,993.9 618.2,985.2 622.5,976.4 626.8,955.9 631.1,953.9 635.4,951 639.8,956.9 644.1,960.8 648.4,962.7 652.7,1011.5 657,977.4 661.4,979.3 665.7,973.5 670,948.1 674.3,948.1 678.6,947.1 683,977.4 687.3,965.6 691.6,1006.6 695.9,1009.5 700.2,1008.6 704.6,997.8 708.9,969.5 713.2,971.5 717.5,966.6 721.8,973.5 726.2,959.8 730.5,1002.7 734.8,1011.5 739.1,968.6 743.4,997.8 747.8,1004.7 752.1,987.1 756.4,955.9 760.7,953 765,959.8 769.4,993 773.7,974.4 778,996.9 782.3,1004.7 786.6,973.5 791,979.3 795.3,955.9 799.6,955.9 803.9,953.9 808.2,949.1 812.6,953.9 816.9,977.4 821.2,1007.6 825.5,1008.6 829.8,1008.6 834.2,1004.7 838.5,1005.6 842.8,975.4 847.1,975.4 851.4,980.3 855.8,993 860.1,985.2 864.4,1013.5 868.7,998.8 873,993 877.4,1003.7 881.7,985.2 886,975.4 890.3,977.4 894.6,971.5 899,978.3 903.3,989.1 907.6,973.5 911.9,957.8 916.2,985.2 920.6,966.6 924.9,975.4 929.2,980.3 933.5,985.2 937.8,968.6 942.2,989.1 946.5,996.9 950.8,1005.6 955.1,968.6 959.4,979.3 963.8,1010.5 968.1,987.1 972.4,973.5 976.7,971.5 981,959.8 985.4,970.5 989.7,967.6 994,958.8"/>
<path fill="#ff7f0e" d="M134.3 1469.4L128.9 1478.8L139.7 1478.8ZM138.6 1429.6L133.2 1439L144 1439ZM143 1479.5L137.6 1488.9L148.4 1488.9ZM147.3 1371.7L141.9 1381.1L152.7 1381.1ZM151.6 1441.4L146.2 1450.8L157 1450.8ZM155.9 1436.6L150.5 1446L161.3 1446ZM160.2 1344.9L154.8 1354.3L165.6 1354.3ZM164.6 1295.2L159.2 1304.6L170 1304.6ZM168.9 1260.2L163.5 1269.6L174.3 1269.6ZM173.2 1247.2L167.8 1256.6L178.6 1256.6ZM177.5 1250.2L172.1 1259.6L182.9 1259.6ZM181.8 1239.2L176.4 1248.6L187.2 1248.6ZM186.2 1225L180.8 1234.4L191.6 1234.4ZM190.5 1229.2L185.1 1238.6L195.9 1238.6ZM194.8 1219.7L189.4 1229.1L200.2 1229.1ZM199.1 1228.2L193.7 1237.6L204.5 1237.6ZM203.4 1233.2L198 1242.6L208.8 1242.6ZM207.8 1226.2L202.4 1235.6L213.2 1235.6ZM212.1 1207.9L206.7 1217.3L217.5 1217.3ZM216.4 1192.7L211 1202.1L221.8 1202.1ZM220.7 1190.7L215.3 1200.1L226.1 1200.1ZM225 1086.2L219.6 1095.6L230.4 1095.6ZM229.4 1028.4L224 1037.8L234.8 1037.8ZM233.7 1018.4L228.3 1027.8L239.1 1027.8ZM238 1021.7L232.6 1031.1L243.4 1031.1ZM242.3 1020.9L236.9 1030.3L247.7 1030.3ZM246.6 1020L241.2 1029.4L252 1029.4ZM251 1030.9L245.6 1040.3L256.4 1040.3ZM255.3 1031.8L249.9 1041.2L260.7 1041.2ZM259.6 1030.1L254.2 1039.5L265 1039.5ZM263.9 1031.8L258.5 1041.2L269.3 1041.2ZM268.2 990.7L262.8 1000.1L273.6 1000.1ZM272.6 995.7L267.2 1005.1L278 1005.1ZM276.9 995.7L271.5 1005.1L282.3 1005.1ZM281.2 984.8L275.8 994.2L286.6 994.2ZM285.5 981.5L280.1 990.9L290.9 990.9ZM289.8 983.2L284.4 992.6L295.2 992.6ZM294.2 982.3L288.8 991.7L299.6 991.7ZM298.5 992.4L293.1 1001.8L303.9 1001.8ZM302.8 1005L297.4 1014.4L308.2 1014.4ZM307.1 999.9L301.7 1009.3L312.5 1009.3ZM311.4 987.4L306 996.8L316.8 996.8ZM315.8 993.2L310.4 1002.6L321.2 1002.6ZM320.1 968.1L314.7 977.5L325.5 977.5ZM324.4 958.9L319 968.3L329.8 968.3ZM328.7 965.6L323.3 975L334.1 975ZM333 968.1L327.6 977.5L338.4 977.5ZM337.4 970.1L332 979.5L342.8 979.5ZM341.7 972L336.3 981.4L347.1 981.4ZM346 991.5L340.6 1000.9L351.4 1000.9ZM350.3 995.4L344.9 1004.8L355.7 1004.8ZM354.6 1001.3L349.2 1010.7L360 1010.7ZM359 961.3L353.6 970.7L364.4 970.7ZM363.3 963.2L357.9 972.6L368.7 972.6ZM367.6 965.2L362.2 974.6L373 974.6ZM371.9 968.1L366.5 977.5L377.3 977.5ZM376.2 955.4L370.8 964.8L381.6 964.8ZM380.6 956.4L375.2 965.8L386 965.8ZM384.9 969.1L379.5 978.5L390.3 978.5ZM389.2 984.7L383.8 994.1L394.6 994.1ZM393.5 988.6L388.1 998L398.9 998ZM397.8 974L392.4 983.4L403.2 983.4ZM402.2 967.2L396.8 976.6L407.6 976.6ZM406.5 962.3L401.1 971.7L411.9 971.7ZM410.8 959.3L405.4 968.7L416.2 968.7ZM415.1 955.4L409.7 964.8L420.5 964.8ZM419.4 949.6L414 959L424.8 959ZM423.8 952.5L418.4 961.9L429.2 961.9ZM428.1 963.2L422.7 972.6L433.5 972.6ZM432.4 980.8L427 990.2L437.8 990.2ZM436.7 999.3L431.3 1008.7L442.1 1008.7ZM441 1006.2L435.6 1015.6L446.4 1015.6ZM445.4 981.8L440 991.2L450.8 991.2ZM449.7 994.5L444.3 1003.9L455.1 1003.9ZM454 962.3L448.6 971.7L459.4 971.7ZM458.3 960.3L452.9 969.7L463.7 969.7ZM462.6 957.4L457.2 966.8L468 966.8ZM467 960.3L461.6 969.7L472.4 969.7ZM471.3 970.1L465.9 979.5L476.7 979.5ZM475.6 975.9L470.2 985.3L481 985.3ZM479.9 1006.2L474.5 1015.6L485.3 1015.6ZM484.2 998.4L478.8 1007.8L489.6 1007.8ZM488.6 985.7L483.2 995.1L494 995.1ZM492.9 970.1L487.5 979.5L498.3 979.5ZM497.2 958.4L491.8 967.8L502.6 967.8ZM501.5 960.3L496.1 969.7L506.9 969.7ZM505.8 961.3L500.4 970.7L511.2 970.7ZM510.2 961.3L504.8 970.7L515.6 970.7ZM514.5 965.2L509.1 974.6L519.9 974.6ZM518.8 993.5L513.4 1002.9L524.2 1002.9ZM523.1 994.5L517.7 1003.9L528.5 1003.9ZM527.4 998.4L522 1007.8L532.8 1007.8ZM531.8 986.7L526.4 996.1L537.2 996.1ZM536.1 970.1L530.7 979.5L541.5 979.5ZM540.4 961.3L535 970.7L545.8 970.7ZM544.7 959.3L539.3 968.7L550.1 968.7ZM549 952.5L543.6 961.9L554.4 961.9ZM553.4 955.4L548 964.8L558.8 964.8ZM557.7 952.5L552.3 961.9L563.1 961.9ZM562 978.9L556.6 988.3L567.4 988.3ZM566.3 992.5L560.9 1001.9L571.7 1001.9ZM570.6 995.4L565.2 1004.8L576 1004.8ZM575 994.5L569.6 1003.9L580.4 1003.9ZM579.3 974L573.9 983.4L584.7 983.4ZM583.6 945.7L578.2 955.1L589 955.1ZM587.9 947.6L582.5 957L593.3 957ZM592.2 956.4L586.8 965.8L597.6 965.8ZM596.6 958.4L591.2 967.8L602 967.8ZM600.9 1002.3L595.5 1011.7L606.3 1011.7ZM605.2 963.2L599.8 972.6L610.6 972.6ZM609.5 998.4L604.1 1007.8L614.9 1007.8ZM613.8 987.6L608.4 997L619.2 997ZM618.2 978.9L612.8 988.3L623.6 988.3ZM622.5 970.1L617.1 979.5L627.9 979.5ZM626.8 949.6L621.4 959L632.2 959ZM631.1 947.6L625.7 957L636.5 957ZM635.4 944.7L630 954.1L640.8 954.1ZM639.8 950.6L634.4 960L645.2 960ZM644.1 954.5L638.7 963.9L649.5 963.9ZM648.4 956.4L643 965.8L653.8 965.8ZM652.7 1005.2L647.3 1014.6L658.1 1014.6ZM657 971.1L651.6 980.5L662.4 980.5ZM661.4 973L656 982.4L666.8 982.4ZM665.7 967.2L660.3 976.6L671.1 976.6ZM670 941.8L664.6 951.2L675.4 951.2ZM674.3 941.8L668.9 951.2L679.7 951.2ZM678.6 940.8L673.2 950.2L684 950.2ZM683 971.1L677.6 980.5L688.4 980.5ZM687.3 959.3L681.9 968.7L692.7 968.7ZM691.6 1000.3L686.2 1009.7L697 1009.7ZM695.9 1003.2L690.5 1012.6L701.3 1012.6ZM700.2 1002.3L694.8 1011.7L705.6 1011.7ZM704.6 991.5L699.2 1000.9L710 1000.9ZM708.9 963.2L703.5 972.6L714.3 972.6ZM713.2 965.2L707.8 974.6L718.6 974.6ZM717.5 960.3L712.1 969.7L722.9 969.7ZM721.8 967.2L716.4 976.6L727.2 976.6ZM726.2 953.5L720.8 962.9L731.6 962.9ZM730.5 996.4L725.1 1005.8L735.9 1005.8ZM734.8 1005.2L729.4 1014.6L740.2 1014.6ZM739.1 962.3L733.7 971.7L744.5 971.7ZM743.4 991.5L738 1000.9L748.8 1000.9ZM747.8 998.4L742.4 1007.8L753.2 1007.8ZM752.1 980.8L746.7 990.2L757.5 990.2ZM756.4 949.6L751 959L761.8 959ZM760.7 946.7L755.3 956.1L766.1 956.1ZM765 953.5L759.6 962.9L770.4 962.9ZM769.4 986.7L764 996.1L774.8 996.1ZM773.7 968.1L768.3 977.5L779.1 977.5ZM778 990.6L772.6 1000L783.4 1000ZM782.3 998.4L776.9 1007.8L787.7 1007.8ZM786.6 967.2L781.2 976.6L792 976.6ZM791 973L785.6 982.4L796.4 982.4ZM795.3 949.6L789.9 959L800.7 959ZM799.6 949.6L794.2 959L805 959ZM803.9 947.6L798.5 957L809.3 957ZM808.2 942.8L802.8 952.2L813.6 952.2ZM812.6 947.6L807.2 957L818 957ZM816.9 971.1L811.5 980.5L822.3 980.5ZM821.2 1001.3L815.8 1010.7L826.6 1010.7ZM825.5 1002.3L820.1 1011.7L830.9 1011.7ZM829.8 1002.3L824.4 1011.7L835.2 1011.7ZM834.2 998.4L828.8 1007.8L839.6 1007.8ZM838.5 999.3L833.1 1008.7L843.9 1008.7ZM842.8 969.1L837.4 978.5L848.2 978.5ZM847.1 969.1L841.7 978.5L852.5 978.5ZM851.4 974L846 983.4L856.8 983.4ZM855.8 986.7L850.4 996.1L861.2 996.1ZM860.1 978.9L854.7 988.3L865.5 988.3ZM864.4 1007.2L859 1016.6L869.8 1016.6ZM868.7 992.5L863.3 1001.9L874.1 1001.9ZM873 986.7L867.6 996.1L878.4 996.1ZM877.4 997.4L872 1006.8L882.8 1006.8ZM881.7 978.9L876.3 988.3L887.1 988.3ZM886 969.1L880.6 978.5L891.4 978.5ZM890.3 971.1L884.9 980.5L895.7 980.5ZM894.6 965.2L889.2 974.6L900 974.6ZM899 972L893.6 981.4L904.4 981.4ZM903.3 982.8L897.9 992.2L908.7 992.2ZM907.6 967.2L902.2 976.6L913 976.6ZM911.9 951.5L906.5 960.9L917.3 960.9ZM916.2 978.9L910.8 988.3L921.6 988.3ZM920.6 960.3L915.2 969.7L926 969.7ZM924.9 969.1L919.5 978.5L930.3 978.5ZM929.2 974L923.8 983.4L934.6 983.4ZM933.5 978.9L928.1 988.3L938.9 988.3ZM937.8 962.3L932.4 971.7L943.2 971.7ZM942.2 982.8L936.8 992.2L947.6 992.2ZM946.5 990.6L941.1 1000L951.9 1000ZM950.8 999.3L945.4 1008.7L956.2 1008.7ZM955.1 962.3L949.7 971.7L960.5 971.7ZM959.4 973L954 982.4L964.8 982.4ZM963.8 1004.2L958.4 1013.6L969.2 1013.6ZM968.1 980.8L962.7 990.2L973.5 990.2ZM972.4 967.2L967 976.6L977.8 976.6ZM976.7 965.2L971.3 974.6L982.1 974.6ZM981 953.5L975.6 962.9L986.4 962.9ZM985.4 964.2L980 973.6L990.8 973.6ZM989.7 961.3L984.3 970.7L995.1 970.7ZM994 952.5L988.6 961.9L999.4 961.9Z"/>
<polyline fill="none" stroke="#008000" stroke-width="2.6" stroke-linejoin="round" points="134.3,1454.9 138.6,1361.5 143,1309 147.3,1301.2 151.6,1331.5 155.9,1326.2 160.2,1301.2 164.6,1213 168.9,1326.2 173.2,1199.8 177.5,1232.7 181.8,1301.2 186.2,1271 190.5,1243 194.8,1224.8 199.1,1224.8 203.4,1243 207.8,1246 212.1,1249 216.4,1309.8 220.7,1295.3 225,1241.3 229.4,1216.9 233.7,1116.8 238,1111.8 242.3,1107.6 246.6,1102.6 251,1103.4 255.3,1101.8 259.6,1108.5 263.9,1100.1 268.2,1078.3 272.6,1085 276.9,1075.8 281.2,1033 285.5,1048.1 289.8,1034.7 294.2,1048.1 298.5,1045.6 302.8,1043.9 307.1,1055.7 311.4,1068.2 315.8,1053.2 320.1,1033.9 324.4,1007.1 328.7,1002 333,1002.2 337.4,1017.8 341.7,1017.8 346,1039.2 350.3,1016.8 354.6,1039.2 359,999.2 363.3,1025.6 367.6,1018.8 371.9,1017.8 376.2,1011.9 380.6,1007 384.9,1014.9 389.2,1016.8 393.5,1001.2 397.8,1019.7 402.2,1016.8 406.5,1006.1 410.8,1007 415.1,1001.2 419.4,1006.1 423.8,1000.2 428.1,1000.2 432.4,995.3 436.7,992.4 441,1009 445.4,998.3 449.7,996.3 454,1005.1 458.3,1013.9 462.6,997.3 467,997.3 471.3,1007 475.6,1009 479.9,1019.7 484.2,1020.7 488.6,997.3 492.9,997.3 497.2,984.6 501.5,987.5 505.8,983.6 510.2,997.3 514.5,1004.1 518.8,1004.1 523.1,995.3 527.4,1010 531.8,1007 536.1,1006.1 540.4,1009 544.7,1008 549,998.3 553.4,1010 557.7,1011 562,1010 566.3,995.3 570.6,994.4 575,1011 579.3,995.3 583.6,994.4 587.9,989.5 592.2,995.3 596.6,990.5 600.9,990.5 605.2,986.6 609.5,1002.2 613.8,1004.1 618.2,1011 622.5,1002.2 626.8,990.5 631.1,995.3 635.4,993.4 639.8,995.3 644.1,994.4 648.4,1000.2 652.7,1001.2 657,1001.2 661.4,998.3 665.7,1000.2 670,1000.2 674.3,1001.2 678.6,998.3 683,991.4 687.3,1012.9 691.6,985.6 695.9,990.5 700.2,1001.2 704.6,1012.9 708.9,998.3 713.2,992.4 717.5,995.3 721.8,997.3 726.2,1002.2 730.5,1004.1 734.8,1006.1 739.1,1011 743.4,996.3 747.8,997.3 752.1,994.4 756.4,987.5 760.7,987.5 765,996.3 769.4,999.2 773.7,1006.1 778,998.3 782.3,992.4 786.6,998.3 791,1003.1 795.3,998.3 799.6,997.3 803.9,993.4 808.2,994.4 812.6,995.3 816.9,997.3 821.2,998.3 825.5,995.3 829.8,992.4 834.2,990.5 838.5,984.6 842.8,980.7 847.1,978.8 851.4,982.7 855.8,988.5 860.1,994.4 864.4,991.4 868.7,990.5 873,993.4 877.4,997.3 881.7,995.3 886,994.4 890.3,992.4 894.6,979.7 899,994.4 903.3,984.6 907.6,1001.2 911.9,997.3 916.2,995.3 920.6,987.5 924.9,981.7 929.2,987.5 933.5,987.5 937.8,979.7 942.2,981.7 946.5,994.4 950.8,986.6 955.1,986.6 959.4,995.3 963.8,1000.2 968.1,990.5 972.4,999.2 976.7,995.3 981,1000.2 985.4,998.3 989.7,994.4 994,1002.2"/>
<path fill="#008000" d="M134.3 1461.1L129 1451.8L139.6 1451.8ZM138.6 1367.7L133.3 1358.4L143.9 1358.4ZM143 1315.2L137.7 1305.9L148.3 1305.9ZM147.3 1307.4L142 1298.1L152.6 1298.1ZM151.6 1337.7L146.3 1328.4L156.9 1328.4ZM155.9 1332.4L150.6 1323.1L161.2 1323.1ZM160.2 1307.4L154.9 1298.1L165.5 1298.1ZM164.6 1219.2L159.3 1209.9L169.9 1209.9ZM168.9 1332.4L163.6 1323.1L174.2 1323.1ZM173.2 1206L167.9 1196.7L178.5 1196.7ZM177.5 1238.9L172.2 1229.6L182.8 1229.6ZM181.8 1307.4L176.5 1298.1L187.1 1298.1ZM186.2 1277.2L180.9 1267.9L191.5 1267.9ZM190.5 1249.2L185.2 1239.9L195.8 1239.9ZM194.8 1231L189.5 1221.7L200.1 1221.7ZM199.1 1231L193.8 1221.7L204.4 1221.7ZM203.4 1249.2L198.1 1239.9L208.7 1239.9ZM207.8 1252.2L202.5 1242.9L213.1 1242.9ZM212.1 1255.2L206.8 1245.9L217.4 1245.9ZM216.4 1316L211.1 1306.7L221.7 1306.7ZM220.7 1301.5L215.4 1292.2L226 1292.2ZM225 1247.5L219.7 1238.2L230.3 1238.2ZM229.4 1223.1L224.1 1213.8L234.7 1213.8ZM233.7 1123L228.4 1113.7L239 1113.7ZM238 1118L232.7 1108.7L243.3 1108.7ZM242.3 1113.8L237 1104.5L247.6 1104.5ZM246.6 1108.8L241.3 1099.5L251.9 1099.5ZM251 1109.6L245.7 1100.3L256.3 1100.3ZM255.3 1108L250 1098.7L260.6 1098.7ZM259.6 1114.7L254.3 1105.4L264.9 1105.4ZM263.9 1106.3L258.6 1097L269.2 1097ZM268.2 1084.5L262.9 1075.2L273.5 1075.2ZM272.6 1091.2L267.3 1081.9L277.9 1081.9ZM276.9 1082L271.6 1072.7L282.2 1072.7ZM281.2 1039.2L275.9 1029.9L286.5 1029.9ZM285.5 1054.3L280.2 1045L290.8 1045ZM289.8 1040.9L284.5 1031.6L295.1 1031.6ZM294.2 1054.3L288.9 1045L299.5 1045ZM298.5 1051.8L293.2 1042.5L303.8 1042.5ZM302.8 1050.1L297.5 1040.8L308.1 1040.8ZM307.1 1061.9L301.8 1052.6L312.4 1052.6ZM311.4 1074.4L306.1 1065.1L316.7 1065.1ZM315.8 1059.4L310.5 1050.1L321.1 1050.1ZM320.1 1040.1L314.8 1030.8L325.4 1030.8ZM324.4 1013.3L319.1 1004L329.7 1004ZM328.7 1008.2L323.4 998.9L334 998.9ZM333 1008.4L327.7 999.1L338.3 999.1ZM337.4 1024L332.1 1014.7L342.7 1014.7ZM341.7 1024L336.4 1014.7L347 1014.7ZM346 1045.4L340.7 1036.1L351.3 1036.1ZM350.3 1023L345 1013.7L355.6 1013.7ZM354.6 1045.4L349.3 1036.1L359.9 1036.1ZM359 1005.4L353.7 996.1L364.3 996.1ZM363.3 1031.8L358 1022.5L368.6 1022.5ZM367.6 1025L362.3 1015.7L372.9 1015.7ZM371.9 1024L366.6 1014.7L377.2 1014.7ZM376.2 1018.1L370.9 1008.8L381.5 1008.8ZM380.6 1013.2L375.3 1003.9L385.9 1003.9ZM384.9 1021.1L379.6 1011.8L390.2 1011.8ZM389.2 1023L383.9 1013.7L394.5 1013.7ZM393.5 1007.4L388.2 998.1L398.8 998.1ZM397.8 1025.9L392.5 1016.6L403.1 1016.6ZM402.2 1023L396.9 1013.7L407.5 1013.7ZM406.5 1012.3L401.2 1003L411.8 1003ZM410.8 1013.2L405.5 1003.9L416.1 1003.9ZM415.1 1007.4L409.8 998.1L420.4 998.1ZM419.4 1012.3L414.1 1003L424.7 1003ZM423.8 1006.4L418.5 997.1L429.1 997.1ZM428.1 1006.4L422.8 997.1L433.4 997.1ZM432.4 1001.5L427.1 992.2L437.7 992.2ZM436.7 998.6L431.4 989.3L442 989.3ZM441 1015.2L435.7 1005.9L446.3 1005.9ZM445.4 1004.5L440.1 995.2L450.7 995.2ZM449.7 1002.5L444.4 993.2L455 993.2ZM454 1011.3L448.7 1002L459.3 1002ZM458.3 1020.1L453 1010.8L463.6 1010.8ZM462.6 1003.5L457.3 994.2L467.9 994.2ZM467 1003.5L461.7 994.2L472.3 994.2ZM471.3 1013.2L466 1003.9L476.6 1003.9ZM475.6 1015.2L470.3 1005.9L480.9 1005.9ZM479.9 1025.9L474.6 1016.6L485.2 1016.6ZM484.2 1026.9L478.9 1017.6L489.5 1017.6ZM488.6 1003.5L483.3 994.2L493.9 994.2ZM492.9 1003.5L487.6 994.2L498.2 994.2ZM497.2 990.8L491.9 981.5L502.5 981.5ZM501.5 993.7L496.2 984.4L506.8 984.4ZM505.8 989.8L500.5 980.5L511.1 980.5ZM510.2 1003.5L504.9 994.2L515.5 994.2ZM514.5 1010.3L509.2 1001L519.8 1001ZM518.8 1010.3L513.5 1001L524.1 1001ZM523.1 1001.5L517.8 992.2L528.4 992.2ZM527.4 1016.2L522.1 1006.9L532.7 1006.9ZM531.8 1013.2L526.5 1003.9L537.1 1003.9ZM536.1 1012.3L530.8 1003L541.4 1003ZM540.4 1015.2L535.1 1005.9L545.7 1005.9ZM544.7 1014.2L539.4 1004.9L550 1004.9ZM549 1004.5L543.7 995.2L554.3 995.2ZM553.4 1016.2L548.1 1006.9L558.7 1006.9ZM557.7 1017.2L552.4 1007.9L563 1007.9ZM562 1016.2L556.7 1006.9L567.3 1006.9ZM566.3 1001.5L561 992.2L571.6 992.2ZM570.6 1000.6L565.3 991.3L575.9 991.3ZM575 1017.2L569.7 1007.9L580.3 1007.9ZM579.3 1001.5L574 992.2L584.6 992.2ZM583.6 1000.6L578.3 991.3L588.9 991.3ZM587.9 995.7L582.6 986.4L593.2 986.4ZM592.2 1001.5L586.9 992.2L597.5 992.2ZM596.6 996.7L591.3 987.4L601.9 987.4ZM600.9 996.7L595.6 987.4L606.2 987.4ZM605.2 992.8L599.9 983.5L610.5 983.5ZM609.5 1008.4L604.2 999.1L614.8 999.1ZM613.8 1010.3L608.5 1001L619.1 1001ZM618.2 1017.2L612.9 1007.9L623.5 1007.9ZM622.5 1008.4L617.2 999.1L627.8 999.1ZM626.8 996.7L621.5 987.4L632.1 987.4ZM631.1 1001.5L625.8 992.2L636.4 992.2ZM635.4 999.6L630.1 990.3L640.7 990.3ZM639.8 1001.5L634.5 992.2L645.1 992.2ZM644.1 1000.6L638.8 991.3L649.4 991.3ZM648.4 1006.4L643.1 997.1L653.7 997.1ZM652.7 1007.4L647.4 998.1L658 998.1ZM657 1007.4L651.7 998.1L662.3 998.1ZM661.4 1004.5L656.1 995.2L666.7 995.2ZM665.7 1006.4L660.4 997.1L671 997.1ZM670 1006.4L664.7 997.1L675.3 997.1ZM674.3 1007.4L669 998.1L679.6 998.1ZM678.6 1004.5L673.3 995.2L683.9 995.2ZM683 997.6L677.7 988.3L688.3 988.3ZM687.3 1019.1L682 1009.8L692.6 1009.8ZM691.6 991.8L686.3 982.5L696.9 982.5ZM695.9 996.7L690.6 987.4L701.2 987.4ZM700.2 1007.4L694.9 998.1L705.5 998.1ZM704.6 1019.1L699.3 1009.8L709.9 1009.8ZM708.9 1004.5L703.6 995.2L714.2 995.2ZM713.2 998.6L707.9 989.3L718.5 989.3ZM717.5 1001.5L712.2 992.2L722.8 992.2ZM721.8 1003.5L716.5 994.2L727.1 994.2ZM726.2 1008.4L720.9 999.1L731.5 999.1ZM730.5 1010.3L725.2 1001L735.8 1001ZM734.8 1012.3L729.5 1003L740.1 1003ZM739.1 1017.2L733.8 1007.9L744.4 1007.9ZM743.4 1002.5L738.1 993.2L748.7 993.2ZM747.8 1003.5L742.5 994.2L753.1 994.2ZM752.1 1000.6L746.8 991.3L757.4 991.3ZM756.4 993.7L751.1 984.4L761.7 984.4ZM760.7 993.7L755.4 984.4L766 984.4ZM765 1002.5L759.7 993.2L770.3 993.2ZM769.4 1005.4L764.1 996.1L774.7 996.1ZM773.7 1012.3L768.4 1003L779 1003ZM778 1004.5L772.7 995.2L783.3 995.2ZM782.3 998.6L777 989.3L787.6 989.3ZM786.6 1004.5L781.3 995.2L791.9 995.2ZM791 1009.3L785.7 1000L796.3 1000ZM795.3 1004.5L790 995.2L800.6 995.2ZM799.6 1003.5L794.3 994.2L804.9 994.2ZM803.9 999.6L798.6 990.3L809.2 990.3ZM808.2 1000.6L802.9 991.3L813.5 991.3ZM812.6 1001.5L807.3 992.2L817.9 992.2ZM816.9 1003.5L811.6 994.2L822.2 994.2ZM821.2 1004.5L815.9 995.2L826.5 995.2ZM825.5 1001.5L820.2 992.2L830.8 992.2ZM829.8 998.6L824.5 989.3L835.1 989.3ZM834.2 996.7L828.9 987.4L839.5 987.4ZM838.5 990.8L833.2 981.5L843.8 981.5ZM842.8 986.9L837.5 977.6L848.1 977.6ZM847.1 985L841.8 975.7L852.4 975.7ZM851.4 988.9L846.1 979.6L856.7 979.6ZM855.8 994.7L850.5 985.4L861.1 985.4ZM860.1 1000.6L854.8 991.3L865.4 991.3ZM864.4 997.6L859.1 988.3L869.7 988.3ZM868.7 996.7L863.4 987.4L874 987.4ZM873 999.6L867.7 990.3L878.3 990.3ZM877.4 1003.5L872.1 994.2L882.7 994.2ZM881.7 1001.5L876.4 992.2L887 992.2ZM886 1000.6L880.7 991.3L891.3 991.3ZM890.3 998.6L885 989.3L895.6 989.3ZM894.6 985.9L889.3 976.6L899.9 976.6ZM899 1000.6L893.7 991.3L904.3 991.3ZM903.3 990.8L898 981.5L908.6 981.5ZM907.6 1007.4L902.3 998.1L912.9 998.1ZM911.9 1003.5L906.6 994.2L917.2 994.2ZM916.2 1001.5L910.9 992.2L921.5 992.2ZM920.6 993.7L915.3 984.4L925.9 984.4ZM924.9 987.9L919.6 978.6L930.2 978.6ZM929.2 993.7L923.9 984.4L934.5 984.4ZM933.5 993.7L928.2 984.4L938.8 984.4ZM937.8 985.9L932.5 976.6L943.1 976.6ZM942.2 987.9L936.9 978.6L947.5 978.6ZM946.5 1000.6L941.2 991.3L951.8 991.3ZM950.8 992.8L945.5 983.5L956.1 983.5ZM955.1 992.8L949.8 983.5L960.4 983.5ZM959.4 1001.5L954.1 992.2L964.7 992.2ZM963.8 1006.4L958.5 997.1L969.1 997.1ZM968.1 996.7L962.8 987.4L973.4 987.4ZM972.4 1005.4L967.1 996.1L977.7 996.1ZM976.7 1001.5L971.4 992.2L982 992.2ZM981 1006.4L975.7 997.1L986.3 997.1ZM985.4 1004.5L980.1 995.2L990.7 995.2ZM989.7 1000.6L984.4 991.3L995 991.3ZM994 1008.4L988.7 999.1L999.3 999.1Z"/>
<polyline fill="none" stroke="#0000ff" stroke-width="2.6" stroke-linejoin="round" points="134.3,1327.2 138.6,1378.2 143,1242.2 147.3,1229.1 151.6,1209.3 155.9,1211.3 160.2,1214.6 164.6,1273.2 168.9,1317.9 173.2,1417.9 177.5,1328.5 181.8,1273.2 186.2,1328.5 190.5,1251.5 194.8,1239.6 199.1,1248.8 203.4,1219.8 207.8,1242.2 212.1,1297.5 216.4,1235.6 220.7,1034.6 225,1015.4 229.4,1002.8 233.7,992.8 238,968.5 242.3,960.1 246.6,958.4 251,959.2 255.3,943.3 259.6,938.3 263.9,950.9 268.2,964.3 272.6,946.7 276.9,952.5 281.2,950 285.5,939.1 289.8,940 294.2,939.1 298.5,928.2 302.8,940.8 307.1,939.1 311.4,938.3 315.8,940 320.1,938.3 324.4,938.3 328.7,937.5 333,928.3 337.4,930.2 341.7,933.2 346,924.4 350.3,941.9 354.6,933.2 359,929.2 363.3,931.2 367.6,929.2 371.9,927.3 376.2,925.3 380.6,926.3 384.9,924.4 389.2,927.3 393.5,934.1 397.8,923.4 402.2,929.2 406.5,930.2 410.8,932.2 415.1,935.1 419.4,925.3 423.8,929.2 428.1,935.1 432.4,928.3 436.7,935.1 441,930.2 445.4,925.3 449.7,923.4 454,924.4 458.3,922.4 462.6,923.4 467,922.4 471.3,921.4 475.6,924.4 479.9,921.4 484.2,916.6 488.6,919.5 492.9,920.5 497.2,928.3 501.5,918.5 505.8,917.5 510.2,918.5 514.5,915.6 518.8,918.5 523.1,922.5 527.4,924 531.8,924.5 536.1,924 540.4,923 544.7,920 549,915.2 553.4,917.3 557.7,920 562,917.8 566.3,922.5 570.6,922.3 575,921.3 579.3,923 583.6,921.7 587.9,918.8 592.2,915.8 596.6,921 600.9,917.8 605.2,917 609.5,918.5 613.8,919.5 618.2,919.5 622.5,920.3 626.8,924 631.1,920.3 635.4,918.5 639.8,919.3 644.1,922.3 648.4,920.3 652.7,917.8 657,920.8 661.4,924.5 665.7,923.3 670,924 674.3,921.2 678.6,920 683,920 687.3,917.3 691.6,916.4 695.9,917.8 700.2,919.7 704.6,918.5 708.9,914.8 713.2,920.2 717.5,918.8 721.8,919.6 726.2,920.2 730.5,919.6 734.8,919.6 739.1,919.9 743.4,920.5 747.8,918.8 752.1,920.2 756.4,919.6 760.7,919.6 765,920.5 769.4,919.2 773.7,919.9 778,919.6 782.3,918.8 786.6,918.8 791,919.9 795.3,920.5 799.6,918.8 803.9,919.6 808.2,918.8 812.6,920.5 816.9,919.6 821.2,919.6 825.5,918.8 829.8,918.8 834.2,920.5 838.5,920.2 842.8,918.8 847.1,919.2 851.4,919.2 855.8,918.8 860.1,919.6 864.4,918.4 868.7,921.5 873,919.6 877.4,919.6 881.7,918.8 886,919.9 890.3,920.2 894.6,919.2 899,920.5 903.3,920.2 907.6,919.6 911.9,919.6 916.2,918.8 920.6,919.6 924.9,919.6 929.2,918.8 933.5,919.6 937.8,920.5 942.2,918.8 946.5,919.2 950.8,919.2 955.1,920.2 959.4,918.8 963.8,918.8 968.1,918.8 972.4,917.2 976.7,920.5 981,919.6 985.4,919.2 989.7,920.2 994,919.9"/>
<path fill="#0000ff" d="M134.3 1320.6L136.1 1324.8L140.6 1325.2L137.1 1328.1L138.2 1332.5L134.3 1330.2L130.4 1332.5L131.5 1328.1L128 1325.2L132.6 1324.8ZM138.6 1371.6L140.4 1375.8L144.9 1376.2L141.5 1379.1L142.5 1383.5L138.6 1381.2L134.8 1383.5L135.8 1379.1L132.4 1376.2L136.9 1375.8ZM143 1235.6L144.7 1239.8L149.2 1240.2L145.8 1243.1L146.8 1247.5L143 1245.2L139.1 1247.5L140.1 1243.1L136.7 1240.2L141.2 1239.8ZM147.3 1222.5L149 1226.7L153.6 1227.1L150.1 1230L151.2 1234.4L147.3 1232.1L143.4 1234.4L144.5 1230L141 1227.1L145.5 1226.7ZM151.6 1202.7L153.3 1206.9L157.9 1207.3L154.4 1210.2L155.5 1214.6L151.6 1212.3L147.7 1214.6L148.8 1210.2L145.3 1207.3L149.9 1206.9ZM155.9 1204.7L157.7 1208.9L162.2 1209.3L158.7 1212.2L159.8 1216.6L155.9 1214.3L152 1216.6L153.1 1212.2L149.6 1209.3L154.2 1208.9ZM160.2 1208L162 1212.2L166.5 1212.6L163.1 1215.5L164.1 1219.9L160.2 1217.6L156.4 1219.9L157.4 1215.5L154 1212.6L158.5 1212.2ZM164.6 1266.6L166.3 1270.8L170.8 1271.2L167.4 1274.1L168.4 1278.5L164.6 1276.2L160.7 1278.5L161.7 1274.1L158.3 1271.2L162.8 1270.8ZM168.9 1311.3L170.6 1315.5L175.2 1315.9L171.7 1318.8L172.8 1323.2L168.9 1320.9L165 1323.2L166.1 1318.8L162.6 1315.9L167.1 1315.5ZM173.2 1411.3L174.9 1415.5L179.5 1415.9L176 1418.8L177.1 1423.2L173.2 1420.9L169.3 1423.2L170.4 1418.8L166.9 1415.9L171.5 1415.5ZM177.5 1321.9L179.3 1326.1L183.8 1326.5L180.3 1329.4L181.4 1333.8L177.5 1331.5L173.6 1333.8L174.7 1329.4L171.2 1326.5L175.8 1326.1ZM181.8 1266.6L183.6 1270.8L188.1 1271.2L184.7 1274.1L185.7 1278.5L181.8 1276.2L178 1278.5L179 1274.1L175.6 1271.2L180.1 1270.8ZM186.2 1321.9L187.9 1326.1L192.4 1326.5L189 1329.4L190 1333.8L186.2 1331.5L182.3 1333.8L183.3 1329.4L179.9 1326.5L184.4 1326.1ZM190.5 1244.9L192.2 1249.1L196.8 1249.5L193.3 1252.4L194.4 1256.8L190.5 1254.5L186.6 1256.8L187.7 1252.4L184.2 1249.5L188.7 1249.1ZM194.8 1233L196.5 1237.2L201.1 1237.6L197.6 1240.5L198.7 1244.9L194.8 1242.6L190.9 1244.9L192 1240.5L188.5 1237.6L193.1 1237.2ZM199.1 1242.2L200.9 1246.4L205.4 1246.8L201.9 1249.7L203 1254.1L199.1 1251.8L195.2 1254.1L196.3 1249.7L192.8 1246.8L197.4 1246.4ZM203.4 1213.2L205.2 1217.4L209.7 1217.8L206.3 1220.7L207.3 1225.1L203.4 1222.8L199.6 1225.1L200.6 1220.7L197.2 1217.8L201.7 1217.4ZM207.8 1235.6L209.5 1239.8L214 1240.2L210.6 1243.1L211.6 1247.5L207.8 1245.2L203.9 1247.5L204.9 1243.1L201.5 1240.2L206 1239.8ZM212.1 1290.9L213.8 1295.1L218.4 1295.5L214.9 1298.4L216 1302.8L212.1 1300.5L208.2 1302.8L209.3 1298.4L205.8 1295.5L210.3 1295.1ZM216.4 1229L218.1 1233.2L222.7 1233.6L219.2 1236.5L220.3 1240.9L216.4 1238.6L212.5 1240.9L213.6 1236.5L210.1 1233.6L214.7 1233.2ZM220.7 1028L222.5 1032.2L227 1032.6L223.5 1035.5L224.6 1039.9L220.7 1037.6L216.8 1039.9L217.9 1035.5L214.4 1032.6L219 1032.2ZM225 1008.8L226.8 1013L231.3 1013.4L227.9 1016.3L228.9 1020.7L225 1018.4L221.2 1020.7L222.2 1016.3L218.8 1013.4L223.3 1013ZM229.4 996.2L231.1 1000.4L235.6 1000.8L232.2 1003.7L233.2 1008.1L229.4 1005.8L225.5 1008.1L226.5 1003.7L223.1 1000.8L227.6 1000.4ZM233.7 986.2L235.4 990.4L240 990.8L236.5 993.7L237.6 998.1L233.7 995.8L229.8 998.1L230.9 993.7L227.4 990.8L231.9 990.4ZM238 961.9L239.7 966.1L244.3 966.5L240.8 969.4L241.9 973.8L238 971.5L234.1 973.8L235.2 969.4L231.7 966.5L236.3 966.1ZM242.3 953.5L244.1 957.7L248.6 958.1L245.1 961L246.2 965.4L242.3 963.1L238.4 965.4L239.5 961L236 958.1L240.6 957.7ZM246.6 951.8L248.4 956L252.9 956.4L249.5 959.3L250.5 963.7L246.6 961.4L242.8 963.7L243.8 959.3L240.4 956.4L244.9 956ZM251 952.6L252.7 956.8L257.2 957.2L253.8 960.1L254.8 964.5L251 962.2L247.1 964.5L248.1 960.1L244.7 957.2L249.2 956.8ZM255.3 936.7L257 940.9L261.6 941.3L258.1 944.2L259.2 948.6L255.3 946.3L251.4 948.6L252.5 944.2L249 941.3L253.5 940.9ZM259.6 931.7L261.3 935.9L265.9 936.3L262.4 939.2L263.5 943.6L259.6 941.3L255.7 943.6L256.8 939.2L253.3 936.3L257.9 935.9ZM263.9 944.3L265.7 948.5L270.2 948.9L266.7 951.8L267.8 956.2L263.9 953.9L260 956.2L261.1 951.8L257.6 948.9L262.2 948.5ZM268.2 957.7L270 961.9L274.5 962.3L271.1 965.2L272.1 969.6L268.2 967.3L264.4 969.6L265.4 965.2L262 962.3L266.5 961.9ZM272.6 940.1L274.3 944.3L278.8 944.7L275.4 947.6L276.4 952L272.6 949.7L268.7 952L269.7 947.6L266.3 944.7L270.8 944.3ZM276.9 945.9L278.6 950.1L283.2 950.5L279.7 953.4L280.8 957.8L276.9 955.5L273 957.8L274.1 953.4L270.6 950.5L275.1 950.1ZM281.2 943.4L282.9 947.6L287.5 948L284 950.9L285.1 955.3L281.2 953L277.3 955.3L278.4 950.9L274.9 948L279.5 947.6ZM285.5 932.5L287.3 936.7L291.8 937.1L288.3 940L289.4 944.4L285.5 942.1L281.6 944.4L282.7 940L279.2 937.1L283.8 936.7ZM289.8 933.4L291.6 937.6L296.1 938L292.7 940.9L293.7 945.3L289.8 943L286 945.3L287 940.9L283.6 938L288.1 937.6ZM294.2 932.5L295.9 936.7L300.4 937.1L297 940L298 944.4L294.2 942.1L290.3 944.4L291.3 940L287.9 937.1L292.4 936.7ZM298.5 921.6L300.2 925.8L304.8 926.2L301.3 929.1L302.4 933.5L298.5 931.2L294.6 933.5L295.7 929.1L292.2 926.2L296.7 925.8ZM302.8 934.2L304.5 938.4L309.1 938.8L305.6 941.7L306.7 946.1L302.8 943.8L298.9 946.1L300 941.7L296.5 938.8L301.1 938.4ZM307.1 932.5L308.9 936.7L313.4 937.1L309.9 940L311 944.4L307.1 942.1L303.2 944.4L304.3 940L300.8 937.1L305.4 936.7ZM311.4 931.7L313.2 935.9L317.7 936.3L314.3 939.2L315.3 943.6L311.4 941.3L307.6 943.6L308.6 939.2L305.2 936.3L309.7 935.9ZM315.8 933.4L317.5 937.6L322 938L318.6 940.9L319.6 945.3L315.8 943L311.9 945.3L312.9 940.9L309.5 938L314 937.6ZM320.1 931.7L321.8 935.9L326.4 936.3L322.9 939.2L324 943.6L320.1 941.3L316.2 943.6L317.3 939.2L313.8 936.3L318.3 935.9ZM324.4 931.7L326.1 935.9L330.7 936.3L327.2 939.2L328.3 943.6L324.4 941.3L320.5 943.6L321.6 939.2L318.1 936.3L322.7 935.9ZM328.7 930.9L330.5 935.1L335 935.5L331.5 938.4L332.6 942.8L328.7 940.5L324.8 942.8L325.9 938.4L322.4 935.5L327 935.1ZM333 921.7L334.8 925.9L339.3 926.3L335.9 929.2L336.9 933.6L333 931.3L329.2 933.6L330.2 929.2L326.8 926.3L331.3 925.9ZM337.4 923.6L339.1 927.8L343.6 928.2L340.2 931.1L341.2 935.5L337.4 933.2L333.5 935.5L334.5 931.1L331.1 928.2L335.6 927.8ZM341.7 926.6L343.4 930.8L348 931.2L344.5 934.1L345.6 938.5L341.7 936.2L337.8 938.5L338.9 934.1L335.4 931.2L339.9 930.8ZM346 917.8L347.7 922L352.3 922.4L348.8 925.3L349.9 929.7L346 927.4L342.1 929.7L343.2 925.3L339.7 922.4L344.3 922ZM350.3 935.3L352.1 939.5L356.6 939.9L353.1 942.8L354.2 947.2L350.3 944.9L346.4 947.2L347.5 942.8L344 939.9L348.6 939.5ZM354.6 926.6L356.4 930.8L360.9 931.2L357.5 934.1L358.5 938.5L354.6 936.2L350.8 938.5L351.8 934.1L348.4 931.2L352.9 930.8ZM359 922.6L360.7 926.8L365.2 927.2L361.8 930.1L362.8 934.5L359 932.2L355.1 934.5L356.1 930.1L352.7 927.2L357.2 926.8ZM363.3 924.6L365 928.8L369.6 929.2L366.1 932.1L367.2 936.5L363.3 934.2L359.4 936.5L360.5 932.1L357 929.2L361.5 928.8ZM367.6 922.6L369.3 926.8L373.9 927.2L370.4 930.1L371.5 934.5L367.6 932.2L363.7 934.5L364.8 930.1L361.3 927.2L365.9 926.8ZM371.9 920.7L373.7 924.9L378.2 925.3L374.7 928.2L375.8 932.6L371.9 930.3L368 932.6L369.1 928.2L365.6 925.3L370.2 924.9ZM376.2 918.7L378 922.9L382.5 923.3L379.1 926.2L380.1 930.6L376.2 928.3L372.4 930.6L373.4 926.2L370 923.3L374.5 922.9ZM380.6 919.7L382.3 923.9L386.8 924.3L383.4 927.2L384.4 931.6L380.6 929.3L376.7 931.6L377.7 927.2L374.3 924.3L378.8 923.9ZM384.9 917.8L386.6 922L391.2 922.4L387.7 925.3L388.8 929.7L384.9 927.4L381 929.7L382.1 925.3L378.6 922.4L383.1 922ZM389.2 920.7L390.9 924.9L395.5 925.3L392 928.2L393.1 932.6L389.2 930.3L385.3 932.6L386.4 928.2L382.9 925.3L387.5 924.9ZM393.5 927.5L395.3 931.7L399.8 932.1L396.3 935L397.4 939.4L393.5 937.1L389.6 939.4L390.7 935L387.2 932.1L391.8 931.7ZM397.8 916.8L399.6 921L404.1 921.4L400.7 924.3L401.7 928.7L397.8 926.4L394 928.7L395 924.3L391.6 921.4L396.1 921ZM402.2 922.6L403.9 926.8L408.4 927.2L405 930.1L406 934.5L402.2 932.2L398.3 934.5L399.3 930.1L395.9 927.2L400.4 926.8ZM406.5 923.6L408.2 927.8L412.8 928.2L409.3 931.1L410.4 935.5L406.5 933.2L402.6 935.5L403.7 931.1L400.2 928.2L404.7 927.8ZM410.8 925.6L412.5 929.8L417.1 930.2L413.6 933.1L414.7 937.5L410.8 935.2L406.9 937.5L408 933.1L404.5 930.2L409.1 929.8ZM415.1 928.5L416.9 932.7L421.4 933.1L417.9 936L419 940.4L415.1 938.1L411.2 940.4L412.3 936L408.8 933.1L413.4 932.7ZM419.4 918.7L421.2 922.9L425.7 923.3L422.3 926.2L423.3 930.6L419.4 928.3L415.6 930.6L416.6 926.2L413.2 923.3L417.7 922.9ZM423.8 922.6L425.5 926.8L430 927.2L426.6 930.1L427.6 934.5L423.8 932.2L419.9 934.5L420.9 930.1L417.5 927.2L422 926.8ZM428.1 928.5L429.8 932.7L434.4 933.1L430.9 936L432 940.4L428.1 938.1L424.2 940.4L425.3 936L421.8 933.1L426.3 932.7ZM432.4 921.7L434.1 925.9L438.7 926.3L435.2 929.2L436.3 933.6L432.4 931.3L428.5 933.6L429.6 929.2L426.1 926.3L430.7 925.9ZM436.7 928.5L438.5 932.7L443 933.1L439.5 936L440.6 940.4L436.7 938.1L432.8 940.4L433.9 936L430.4 933.1L435 932.7ZM441 923.6L442.8 927.8L447.3 928.2L443.9 931.1L444.9 935.5L441 933.2L437.2 935.5L438.2 931.1L434.8 928.2L439.3 927.8ZM445.4 918.7L447.1 922.9L451.6 923.3L448.2 926.2L449.2 930.6L445.4 928.3L441.5 930.6L442.5 926.2L439.1 923.3L443.6 922.9ZM449.7 916.8L451.4 921L456 921.4L452.5 924.3L453.6 928.7L449.7 926.4L445.8 928.7L446.9 924.3L443.4 921.4L447.9 921ZM454 917.8L455.7 922L460.3 922.4L456.8 925.3L457.9 929.7L454 927.4L450.1 929.7L451.2 925.3L447.7 922.4L452.3 922ZM458.3 915.8L460.1 920L464.6 920.4L461.1 923.3L462.2 927.7L458.3 925.4L454.4 927.7L455.5 923.3L452 920.4L456.6 920ZM462.6 916.8L464.4 921L468.9 921.4L465.5 924.3L466.5 928.7L462.6 926.4L458.8 928.7L459.8 924.3L456.4 921.4L460.9 921ZM467 915.8L468.7 920L473.2 920.4L469.8 923.3L470.8 927.7L467 925.4L463.1 927.7L464.1 923.3L460.7 920.4L465.2 920ZM471.3 914.8L473 919L477.6 919.4L474.1 922.3L475.2 926.7L471.3 924.4L467.4 926.7L468.5 922.3L465 919.4L469.5 919ZM475.6 917.8L477.3 922L481.9 922.4L478.4 925.3L479.5 929.7L475.6 927.4L471.7 929.7L472.8 925.3L469.3 922.4L473.9 922ZM479.9 914.8L481.7 919L486.2 919.4L482.7 922.3L483.8 926.7L479.9 924.4L476 926.7L477.1 922.3L473.6 919.4L478.2 919ZM484.2 910L486 914.2L490.5 914.6L487.1 917.5L488.1 921.9L484.2 919.6L480.4 921.9L481.4 917.5L478 914.6L482.5 914.2ZM488.6 912.9L490.3 917.1L494.8 917.5L491.4 920.4L492.4 924.8L488.6 922.5L484.7 924.8L485.7 920.4L482.3 917.5L486.8 917.1ZM492.9 913.9L494.6 918.1L499.2 918.5L495.7 921.4L496.8 925.8L492.9 923.5L489 925.8L490.1 921.4L486.6 918.5L491.1 918.1ZM497.2 921.7L498.9 925.9L503.5 926.3L500 929.2L501.1 933.6L497.2 931.3L493.3 933.6L494.4 929.2L490.9 926.3L495.5 925.9ZM501.5 911.9L503.3 916.1L507.8 916.5L504.3 919.4L505.4 923.8L501.5 921.5L497.6 923.8L498.7 919.4L495.2 916.5L499.8 916.1ZM505.8 910.9L507.6 915.1L512.1 915.5L508.7 918.4L509.7 922.8L505.8 920.5L502 922.8L503 918.4L499.6 915.5L504.1 915.1ZM510.2 911.9L511.9 916.1L516.4 916.5L513 919.4L514 923.8L510.2 921.5L506.3 923.8L507.3 919.4L503.9 916.5L508.4 916.1ZM514.5 909L516.2 913.2L520.8 913.6L517.3 916.5L518.4 920.9L514.5 918.6L510.6 920.9L511.7 916.5L508.2 913.6L512.7 913.2ZM518.8 911.9L520.5 916.1L525.1 916.5L521.6 919.4L522.7 923.8L518.8 921.5L514.9 923.8L516 919.4L512.5 916.5L517.1 916.1ZM523.1 915.9L524.9 920.1L529.4 920.5L525.9 923.4L527 927.8L523.1 925.5L519.2 927.8L520.3 923.4L516.8 920.5L521.4 920.1ZM527.4 917.4L529.2 921.6L533.7 922L530.3 924.9L531.3 929.3L527.4 927L523.6 929.3L524.6 924.9L521.2 922L525.7 921.6ZM531.8 917.9L533.5 922.1L538 922.5L534.6 925.4L535.6 929.8L531.8 927.5L527.9 929.8L528.9 925.4L525.5 922.5L530 922.1ZM536.1 917.4L537.8 921.6L542.4 922L538.9 924.9L540 929.3L536.1 927L532.2 929.3L533.3 924.9L529.8 922L534.3 921.6ZM540.4 916.4L542.1 920.6L546.7 921L543.2 923.9L544.3 928.3L540.4 926L536.5 928.3L537.6 923.9L534.1 921L538.7 920.6ZM544.7 913.4L546.5 917.6L551 918L547.5 920.9L548.6 925.3L544.7 923L540.8 925.3L541.9 920.9L538.4 918L543 917.6ZM549 908.6L550.8 912.8L555.3 913.2L551.9 916.1L552.9 920.5L549 918.2L545.2 920.5L546.2 916.1L542.8 913.2L547.3 912.8ZM553.4 910.7L555.1 914.9L559.6 915.3L556.2 918.2L557.2 922.6L553.4 920.3L549.5 922.6L550.5 918.2L547.1 915.3L551.6 914.9ZM557.7 913.4L559.4 917.6L564 918L560.5 920.9L561.6 925.3L557.7 923L553.8 925.3L554.9 920.9L551.4 918L555.9 917.6ZM562 911.2L563.7 915.4L568.3 915.8L564.8 918.7L565.9 923.1L562 920.8L558.1 923.1L559.2 918.7L555.7 915.8L560.3 915.4ZM566.3 915.9L568.1 920.1L572.6 920.5L569.1 923.4L570.2 927.8L566.3 925.5L562.4 927.8L563.5 923.4L560 920.5L564.6 920.1ZM570.6 915.7L572.4 919.9L576.9 920.3L573.5 923.2L574.5 927.6L570.6 925.3L566.8 927.6L567.8 923.2L564.4 920.3L568.9 919.9ZM575 914.7L576.7 918.9L581.2 919.3L577.8 922.2L578.8 926.6L575 924.3L571.1 926.6L572.1 922.2L568.7 919.3L573.2 918.9ZM579.3 916.4L581 920.6L585.6 921L582.1 923.9L583.2 928.3L579.3 926L575.4 928.3L576.5 923.9L573 921L577.5 920.6ZM583.6 915.1L585.3 919.3L589.9 919.7L586.4 922.6L587.5 927L583.6 924.7L579.7 927L580.8 922.6L577.3 919.7L581.9 919.3ZM587.9 912.2L589.7 916.4L594.2 916.8L590.7 919.7L591.8 924.1L587.9 921.8L584 924.1L585.1 919.7L581.6 916.8L586.2 916.4ZM592.2 909.2L594 913.4L598.5 913.8L595.1 916.7L596.1 921.1L592.2 918.8L588.4 921.1L589.4 916.7L586 913.8L590.5 913.4ZM596.6 914.4L598.3 918.6L602.8 919L599.4 921.9L600.4 926.3L596.6 924L592.7 926.3L593.7 921.9L590.3 919L594.8 918.6ZM600.9 911.2L602.6 915.4L607.2 915.8L603.7 918.7L604.8 923.1L600.9 920.8L597 923.1L598.1 918.7L594.6 915.8L599.1 915.4ZM605.2 910.4L606.9 914.6L611.5 915L608 917.9L609.1 922.3L605.2 920L601.3 922.3L602.4 917.9L598.9 915L603.5 914.6ZM609.5 911.9L611.3 916.1L615.8 916.5L612.3 919.4L613.4 923.8L609.5 921.5L605.6 923.8L606.7 919.4L603.2 916.5L607.8 916.1ZM613.8 912.9L615.6 917.1L620.1 917.5L616.7 920.4L617.7 924.8L613.8 922.5L610 924.8L611 920.4L607.6 917.5L612.1 917.1ZM618.2 912.9L619.9 917.1L624.4 917.5L621 920.4L622 924.8L618.2 922.5L614.3 924.8L615.3 920.4L611.9 917.5L616.4 917.1ZM622.5 913.7L624.2 917.9L628.8 918.3L625.3 921.2L626.4 925.6L622.5 923.3L618.6 925.6L619.7 921.2L616.2 918.3L620.7 917.9ZM626.8 917.4L628.5 921.6L633.1 922L629.6 924.9L630.7 929.3L626.8 927L622.9 929.3L624 924.9L620.5 922L625.1 921.6ZM631.1 913.7L632.9 917.9L637.4 918.3L633.9 921.2L635 925.6L631.1 923.3L627.2 925.6L628.3 921.2L624.8 918.3L629.4 917.9ZM635.4 911.9L637.2 916.1L641.7 916.5L638.3 919.4L639.3 923.8L635.4 921.5L631.6 923.8L632.6 919.4L629.2 916.5L633.7 916.1ZM639.8 912.7L641.5 916.9L646 917.3L642.6 920.2L643.6 924.6L639.8 922.3L635.9 924.6L636.9 920.2L633.5 917.3L638 916.9ZM644.1 915.7L645.8 919.9L650.4 920.3L646.9 923.2L648 927.6L644.1 925.3L640.2 927.6L641.3 923.2L637.8 920.3L642.3 919.9ZM648.4 913.7L650.1 917.9L654.7 918.3L651.2 921.2L652.3 925.6L648.4 923.3L644.5 925.6L645.6 921.2L642.1 918.3L646.7 917.9ZM652.7 911.2L654.5 915.4L659 915.8L655.5 918.7L656.6 923.1L652.7 920.8L648.8 923.1L649.9 918.7L646.4 915.8L651 915.4ZM657 914.2L658.8 918.4L663.3 918.8L659.9 921.7L660.9 926.1L657 923.8L653.2 926.1L654.2 921.7L650.8 918.8L655.3 918.4ZM661.4 917.9L663.1 922.1L667.6 922.5L664.2 925.4L665.2 929.8L661.4 927.5L657.5 929.8L658.5 925.4L655.1 922.5L659.6 922.1ZM665.7 916.7L667.4 920.9L672 921.3L668.5 924.2L669.6 928.6L665.7 926.3L661.8 928.6L662.9 924.2L659.4 921.3L663.9 920.9ZM670 917.4L671.7 921.6L676.3 922L672.8 924.9L673.9 929.3L670 927L666.1 929.3L667.2 924.9L663.7 922L668.3 921.6ZM674.3 914.6L676.1 918.8L680.6 919.2L677.1 922.1L678.2 926.5L674.3 924.2L670.4 926.5L671.5 922.1L668 919.2L672.6 918.8ZM678.6 913.4L680.4 917.6L684.9 918L681.5 920.9L682.5 925.3L678.6 923L674.8 925.3L675.8 920.9L672.4 918L676.9 917.6ZM683 913.4L684.7 917.6L689.2 918L685.8 920.9L686.8 925.3L683 923L679.1 925.3L680.1 920.9L676.7 918L681.2 917.6ZM687.3 910.7L689 914.9L693.6 915.3L690.1 918.2L691.2 922.6L687.3 920.3L683.4 922.6L684.5 918.2L681 915.3L685.5 914.9ZM691.6 909.8L693.3 914L697.9 914.4L694.4 917.3L695.5 921.7L691.6 919.4L687.7 921.7L688.8 917.3L685.3 914.4L689.9 914ZM695.9 911.2L697.7 915.4L702.2 915.8L698.7 918.7L699.8 923.1L695.9 920.8L692 923.1L693.1 918.7L689.6 915.8L694.2 915.4ZM700.2 913.1L702 917.3L706.5 917.7L703.1 920.6L704.1 925L700.2 922.7L696.4 925L697.4 920.6L694 917.7L698.5 917.3ZM704.6 911.9L706.3 916.1L710.8 916.5L707.4 919.4L708.4 923.8L704.6 921.5L700.7 923.8L701.7 919.4L698.3 916.5L702.8 916.1ZM708.9 908.2L710.6 912.4L715.2 912.8L711.7 915.7L712.8 920.1L708.9 917.8L705 920.1L706.1 915.7L702.6 912.8L707.1 912.4ZM713.2 913.6L714.9 917.8L719.5 918.2L716 921.1L717.1 925.5L713.2 923.2L709.3 925.5L710.4 921.1L706.9 918.2L711.5 917.8ZM717.5 912.2L719.3 916.4L723.8 916.8L720.3 919.7L721.4 924.1L717.5 921.8L713.6 924.1L714.7 919.7L711.2 916.8L715.8 916.4ZM721.8 913L723.6 917.2L728.1 917.6L724.7 920.5L725.7 924.9L721.8 922.6L718 924.9L719 920.5L715.6 917.6L720.1 917.2ZM726.2 913.6L727.9 917.8L732.4 918.2L729 921.1L730 925.5L726.2 923.2L722.3 925.5L723.3 921.1L719.9 918.2L724.4 917.8ZM730.5 913L732.2 917.2L736.8 917.6L733.3 920.5L734.4 924.9L730.5 922.6L726.6 924.9L727.7 920.5L724.2 917.6L728.7 917.2ZM734.8 913L736.5 917.2L741.1 917.6L737.6 920.5L738.7 924.9L734.8 922.6L730.9 924.9L732 920.5L728.5 917.6L733.1 917.2ZM739.1 913.3L740.9 917.5L745.4 917.9L741.9 920.8L743 925.2L739.1 922.9L735.2 925.2L736.3 920.8L732.8 917.9L737.4 917.5ZM743.4 913.9L745.2 918.1L749.7 918.5L746.3 921.4L747.3 925.8L743.4 923.5L739.6 925.8L740.6 921.4L737.2 918.5L741.7 918.1ZM747.8 912.2L749.5 916.4L754 916.8L750.6 919.7L751.6 924.1L747.8 921.8L743.9 924.1L744.9 919.7L741.5 916.8L746 916.4ZM752.1 913.6L753.8 917.8L758.4 918.2L754.9 921.1L756 925.5L752.1 923.2L748.2 925.5L749.3 921.1L745.8 918.2L750.3 917.8ZM756.4 913L758.1 917.2L762.7 917.6L759.2 920.5L760.3 924.9L756.4 922.6L752.5 924.9L753.6 920.5L750.1 917.6L754.7 917.2ZM760.7 913L762.5 917.2L767 917.6L763.5 920.5L764.6 924.9L760.7 922.6L756.8 924.9L757.9 920.5L754.4 917.6L759 917.2ZM765 913.9L766.8 918.1L771.3 918.5L767.9 921.4L768.9 925.8L765 923.5L761.2 925.8L762.2 921.4L758.8 918.5L763.3 918.1ZM769.4 912.6L771.1 916.8L775.6 917.2L772.2 920.1L773.2 924.5L769.4 922.2L765.5 924.5L766.5 920.1L763.1 917.2L767.6 916.8ZM773.7 913.3L775.4 917.5L780 917.9L776.5 920.8L777.6 925.2L773.7 922.9L769.8 925.2L770.9 920.8L767.4 917.9L771.9 917.5ZM778 913L779.7 917.2L784.3 917.6L780.8 920.5L781.9 924.9L778 922.6L774.1 924.9L775.2 920.5L771.7 917.6L776.3 917.2ZM782.3 912.2L784.1 916.4L788.6 916.8L785.1 919.7L786.2 924.1L782.3 921.8L778.4 924.1L779.5 919.7L776 916.8L780.6 916.4ZM786.6 912.2L788.4 916.4L792.9 916.8L789.5 919.7L790.5 924.1L786.6 921.8L782.8 924.1L783.8 919.7L780.4 916.8L784.9 916.4ZM791 913.3L792.7 917.5L797.2 917.9L793.8 920.8L794.8 925.2L791 922.9L787.1 925.2L788.1 920.8L784.7 917.9L789.2 917.5ZM795.3 913.9L797 918.1L801.6 918.5L798.1 921.4L799.2 925.8L795.3 923.5L791.4 925.8L792.5 921.4L789 918.5L793.5 918.1ZM799.6 912.2L801.3 916.4L805.9 916.8L802.4 919.7L803.5 924.1L799.6 921.8L795.7 924.1L796.8 919.7L793.3 916.8L797.9 916.4ZM803.9 913L805.7 917.2L810.2 917.6L806.7 920.5L807.8 924.9L803.9 922.6L800 924.9L801.1 920.5L797.6 917.6L802.2 917.2ZM808.2 912.2L810 916.4L814.5 916.8L811.1 919.7L812.1 924.1L808.2 921.8L804.4 924.1L805.4 919.7L802 916.8L806.5 916.4ZM812.6 913.9L814.3 918.1L818.8 918.5L815.4 921.4L816.4 925.8L812.6 923.5L808.7 925.8L809.7 921.4L806.3 918.5L810.8 918.1ZM816.9 913L818.6 917.2L823.2 917.6L819.7 920.5L820.8 924.9L816.9 922.6L813 924.9L814.1 920.5L810.6 917.6L815.1 917.2ZM821.2 913L822.9 917.2L827.5 917.6L824 920.5L825.1 924.9L821.2 922.6L817.3 924.9L818.4 920.5L814.9 917.6L819.5 917.2ZM825.5 912.2L827.3 916.4L831.8 916.8L828.3 919.7L829.4 924.1L825.5 921.8L821.6 924.1L822.7 919.7L819.2 916.8L823.8 916.4ZM829.8 912.2L831.6 916.4L836.1 916.8L832.7 919.7L833.7 924.1L829.8 921.8L826 924.1L827 919.7L823.6 916.8L828.1 916.4ZM834.2 913.9L835.9 918.1L840.4 918.5L837 921.4L838 925.8L834.2 923.5L830.3 925.8L831.3 921.4L827.9 918.5L832.4 918.1ZM838.5 913.6L840.2 917.8L844.8 918.2L841.3 921.1L842.4 925.5L838.5 923.2L834.6 925.5L835.7 921.1L832.2 918.2L836.7 917.8ZM842.8 912.2L844.5 916.4L849.1 916.8L845.6 919.7L846.7 924.1L842.8 921.8L838.9 924.1L840 919.7L836.5 916.8L841.1 916.4ZM847.1 912.6L848.9 916.8L853.4 917.2L849.9 920.1L851 924.5L847.1 922.2L843.2 924.5L844.3 920.1L840.8 917.2L845.4 916.8ZM851.4 912.6L853.2 916.8L857.7 917.2L854.3 920.1L855.3 924.5L851.4 922.2L847.6 924.5L848.6 920.1L845.2 917.2L849.7 916.8ZM855.8 912.2L857.5 916.4L862 916.8L858.6 919.7L859.6 924.1L855.8 921.8L851.9 924.1L852.9 919.7L849.5 916.8L854 916.4ZM860.1 913L861.8 917.2L866.4 917.6L862.9 920.5L864 924.9L860.1 922.6L856.2 924.9L857.3 920.5L853.8 917.6L858.3 917.2ZM864.4 911.8L866.1 916L870.7 916.4L867.2 919.3L868.3 923.7L864.4 921.4L860.5 923.7L861.6 919.3L858.1 916.4L862.7 916ZM868.7 914.9L870.5 919.1L875 919.5L871.5 922.4L872.6 926.8L868.7 924.5L864.8 926.8L865.9 922.4L862.4 919.5L867 919.1ZM873 913L874.8 917.2L879.3 917.6L875.9 920.5L876.9 924.9L873 922.6L869.2 924.9L870.2 920.5L866.8 917.6L871.3 917.2ZM877.4 913L879.1 917.2L883.6 917.6L880.2 920.5L881.2 924.9L877.4 922.6L873.5 924.9L874.5 920.5L871.1 917.6L875.6 917.2ZM881.7 912.2L883.4 916.4L888 916.8L884.5 919.7L885.6 924.1L881.7 921.8L877.8 924.1L878.9 919.7L875.4 916.8L879.9 916.4ZM886 913.3L887.7 917.5L892.3 917.9L888.8 920.8L889.9 925.2L886 922.9L882.1 925.2L883.2 920.8L879.7 917.9L884.3 917.5ZM890.3 913.6L892.1 917.8L896.6 918.2L893.1 921.1L894.2 925.5L890.3 923.2L886.4 925.5L887.5 921.1L884 918.2L888.6 917.8ZM894.6 912.6L896.4 916.8L900.9 917.2L897.5 920.1L898.5 924.5L894.6 922.2L890.8 924.5L891.8 920.1L888.4 917.2L892.9 916.8ZM899 913.9L900.7 918.1L905.2 918.5L901.8 921.4L902.8 925.8L899 923.5L895.1 925.8L896.1 921.4L892.7 918.5L897.2 918.1ZM903.3 913.6L905 917.8L909.6 918.2L906.1 921.1L907.2 925.5L903.3 923.2L899.4 925.5L900.5 921.1L897 918.2L901.5 917.8ZM907.6 913L909.3 917.2L913.9 917.6L910.4 920.5L911.5 924.9L907.6 922.6L903.7 924.9L904.8 920.5L901.3 917.6L905.9 917.2ZM911.9 913L913.7 917.2L918.2 917.6L914.7 920.5L915.8 924.9L911.9 922.6L908 924.9L909.1 920.5L905.6 917.6L910.2 917.2ZM916.2 912.2L918 916.4L922.5 916.8L919.1 919.7L920.1 924.1L916.2 921.8L912.4 924.1L913.4 919.7L910 916.8L914.5 916.4ZM920.6 913L922.3 917.2L926.8 917.6L923.4 920.5L924.4 924.9L920.6 922.6L916.7 924.9L917.7 920.5L914.3 917.6L918.8 917.2ZM924.9 913L926.6 917.2L931.2 917.6L927.7 920.5L928.8 924.9L924.9 922.6L921 924.9L922.1 920.5L918.6 917.6L923.1 917.2ZM929.2 912.2L930.9 916.4L935.5 916.8L932 919.7L933.1 924.1L929.2 921.8L925.3 924.1L926.4 919.7L922.9 916.8L927.5 916.4ZM933.5 913L935.3 917.2L939.8 917.6L936.3 920.5L937.4 924.9L933.5 922.6L929.6 924.9L930.7 920.5L927.2 917.6L931.8 917.2ZM937.8 913.9L939.6 918.1L944.1 918.5L940.7 921.4L941.7 925.8L937.8 923.5L934 925.8L935 921.4L931.6 918.5L936.1 918.1ZM942.2 912.2L943.9 916.4L948.4 916.8L945 919.7L946 924.1L942.2 921.8L938.3 924.1L939.3 919.7L935.9 916.8L940.4 916.4ZM946.5 912.6L948.2 916.8L952.8 917.2L949.3 920.1L950.4 924.5L946.5 922.2L942.6 924.5L943.7 920.1L940.2 917.2L944.7 916.8ZM950.8 912.6L952.5 916.8L957.1 917.2L953.6 920.1L954.7 924.5L950.8 922.2L946.9 924.5L948 920.1L944.5 917.2L949.1 916.8ZM955.1 913.6L956.9 917.8L961.4 918.2L957.9 921.1L959 925.5L955.1 923.2L951.2 925.5L952.3 921.1L948.8 918.2L953.4 917.8ZM959.4 912.2L961.2 916.4L965.7 916.8L962.3 919.7L963.3 924.1L959.4 921.8L955.6 924.1L956.6 919.7L953.2 916.8L957.7 916.4ZM963.8 912.2L965.5 916.4L970 916.8L966.6 919.7L967.6 924.1L963.8 921.8L959.9 924.1L960.9 919.7L957.5 916.8L962 916.4ZM968.1 912.2L969.8 916.4L974.4 916.8L970.9 919.7L972 924.1L968.1 921.8L964.2 924.1L965.3 919.7L961.8 916.8L966.3 916.4ZM972.4 910.6L974.1 914.8L978.7 915.2L975.2 918.1L976.3 922.5L972.4 920.2L968.5 922.5L969.6 918.1L966.1 915.2L970.7 914.8ZM976.7 913.9L978.5 918.1L983 918.5L979.5 921.4L980.6 925.8L976.7 923.5L972.8 925.8L973.9 921.4L970.4 918.5L975 918.1ZM981 913L982.8 917.2L987.3 917.6L983.9 920.5L984.9 924.9L981 922.6L977.2 924.9L978.2 920.5L974.8 917.6L979.3 917.2ZM985.4 912.6L987.1 916.8L991.6 917.2L988.2 920.1L989.2 924.5L985.4 922.2L981.5 924.5L982.5 920.1L979.1 917.2L983.6 916.8ZM989.7 913.6L991.4 917.8L996 918.2L992.5 921.1L993.6 925.5L989.7 923.2L985.8 925.5L986.9 921.1L983.4 918.2L987.9 917.8ZM994 913.3L995.7 917.5L1000.3 917.9L996.8 920.8L997.9 925.2L994 922.9L990.1 925.2L991.2 920.8L987.7 917.9L992.3 917.5Z"/>
<rect x="108.7" y="846" width="907.3" height="684" fill="none" stroke="#000" stroke-width="3.1"/>
<rect x="274.2" y="1267.5" width="149.6" height="221.3" fill="#d9eed9"/>
<svg x="274.2" y="1267.5" width="149.6" height="221.3" viewBox="274.2 1267.5 149.6 221.3" overflow="hidden">
<polyline fill="none" stroke="#0000ff" stroke-width="3.4" stroke-linejoin="round" points="346.5,1267 342.4,1490"/>
<polyline fill="none" stroke="#ff0000" stroke-width="3.4" stroke-linejoin="round" points="359.4,1267 352.4,1490"/>
<polyline fill="none" stroke="#008000" stroke-width="3.4" stroke-linejoin="round" points="385.8,1267 378.4,1490"/>
</svg>
<rect x="274.2" y="1267.5" width="149.6" height="221.3" fill="none" stroke="#000" stroke-width="2.0"/>
<line x1="281.9" y1="1488.8" x2="281.9" y2="1491.3" stroke="#000" stroke-width="1.3"/>
<text x="281.9" y="1505.8" font-size="16.8" text-anchor="middle" font-weight="bold">15</text>
<line x1="316.7" y1="1488.8" x2="316.7" y2="1491.3" stroke="#000" stroke-width="1.3"/>
<text x="316.7" y="1505.8" font-size="16.8" text-anchor="middle" font-weight="bold">18</text>
<line x1="351.5" y1="1488.8" x2="351.5" y2="1491.3" stroke="#000" stroke-width="1.3"/>
<text x="351.5" y="1505.8" font-size="16.8" text-anchor="middle" font-weight="bold">21</text>
<line x1="386.6" y1="1488.8" x2="386.6" y2="1491.3" stroke="#000" stroke-width="1.3"/>
<text x="386.6" y="1505.8" font-size="16.8" text-anchor="middle" font-weight="bold">24</text>
<line x1="421.5" y1="1488.8" x2="421.5" y2="1491.3" stroke="#000" stroke-width="1.3"/>
<text x="421.5" y="1505.8" font-size="16.8" text-anchor="middle" font-weight="bold">27</text>
<line x1="271.7" y1="1279.9" x2="274.2" y2="1279.9" stroke="#000" stroke-width="1.3"/>
<text x="270" y="1285.5" font-size="16.8" text-anchor="end" font-weight="bold">0.76</text>
<line x1="271.7" y1="1347.5" x2="274.2" y2="1347.5" stroke="#000" stroke-width="1.3"/>
<text x="270" y="1353.1" font-size="16.8" text-anchor="end" font-weight="bold">0.74</text>
<line x1="271.7" y1="1415.4" x2="274.2" y2="1415.4" stroke="#000" stroke-width="1.3"/>
<text x="270" y="1421" font-size="16.8" text-anchor="end" font-weight="bold">0.72</text>
<line x1="271.7" y1="1483.3" x2="274.2" y2="1483.3" stroke="#000" stroke-width="1.3"/>
<text x="270" y="1488.9" font-size="16.8" text-anchor="end" font-weight="bold">0.70</text>
<polyline fill="none" stroke="#000" stroke-width="3.1" stroke-linejoin="miter" points="236.2,1163.9 242.4,1163.9 291,1248.8"/>
<path d="M301.4 1267L284.6 1250.1L295.4 1244Z" fill="#000"/>
<rect x="495" y="1328.4" width="501.6" height="156.6" fill="#fff" stroke="#ff0000" stroke-width="2.4"/>
<line x1="496" y1="1346.3" x2="566.3" y2="1346.3" stroke="#800080" stroke-width="2.6"/>
<path d="M526.6 1342.2h8.2v8.2h-8.2Z" fill="#800080"/>
<text x="575.2" y="1356.8" font-size="31.9" text-anchor="start" font-weight="normal">Testing Accuracy(W/0-DFL)</text>
<line x1="496" y1="1385.3" x2="566.3" y2="1385.3" stroke="#ff7f0e" stroke-width="2.6"/>
<path d="M530.7 1379L525.3 1388.4L536.1 1388.4Z" fill="#ff7f0e"/>
<text x="575.2" y="1395.8" font-size="31.9" text-anchor="start" font-weight="normal">Testing Accuracy(W/0-JMMD)</text>
<line x1="496" y1="1424.4" x2="566.3" y2="1424.4" stroke="#008000" stroke-width="2.6"/>
<path d="M530.7 1430.6L525.4 1421.3L536 1421.3Z" fill="#008000"/>
<text x="575.2" y="1434.9" font-size="31.9" text-anchor="start" font-weight="normal">Testing Accuracy(W/0-JMSD)</text>
<line x1="496" y1="1463.5" x2="566.3" y2="1463.5" stroke="#0000ff" stroke-width="2.6"/>
<path d="M530.7 1456.9L532.4 1461.1L537 1461.5L533.5 1464.4L534.6 1468.8L530.7 1466.5L526.8 1468.8L527.9 1464.4L524.4 1461.5L529 1461.1Z" fill="#0000ff"/>
<text x="575.2" y="1474" font-size="31.9" text-anchor="start" font-weight="normal">Testing Accuracy(MDJSN-DFL)</text>
</g>
</svg>
</body></html>
